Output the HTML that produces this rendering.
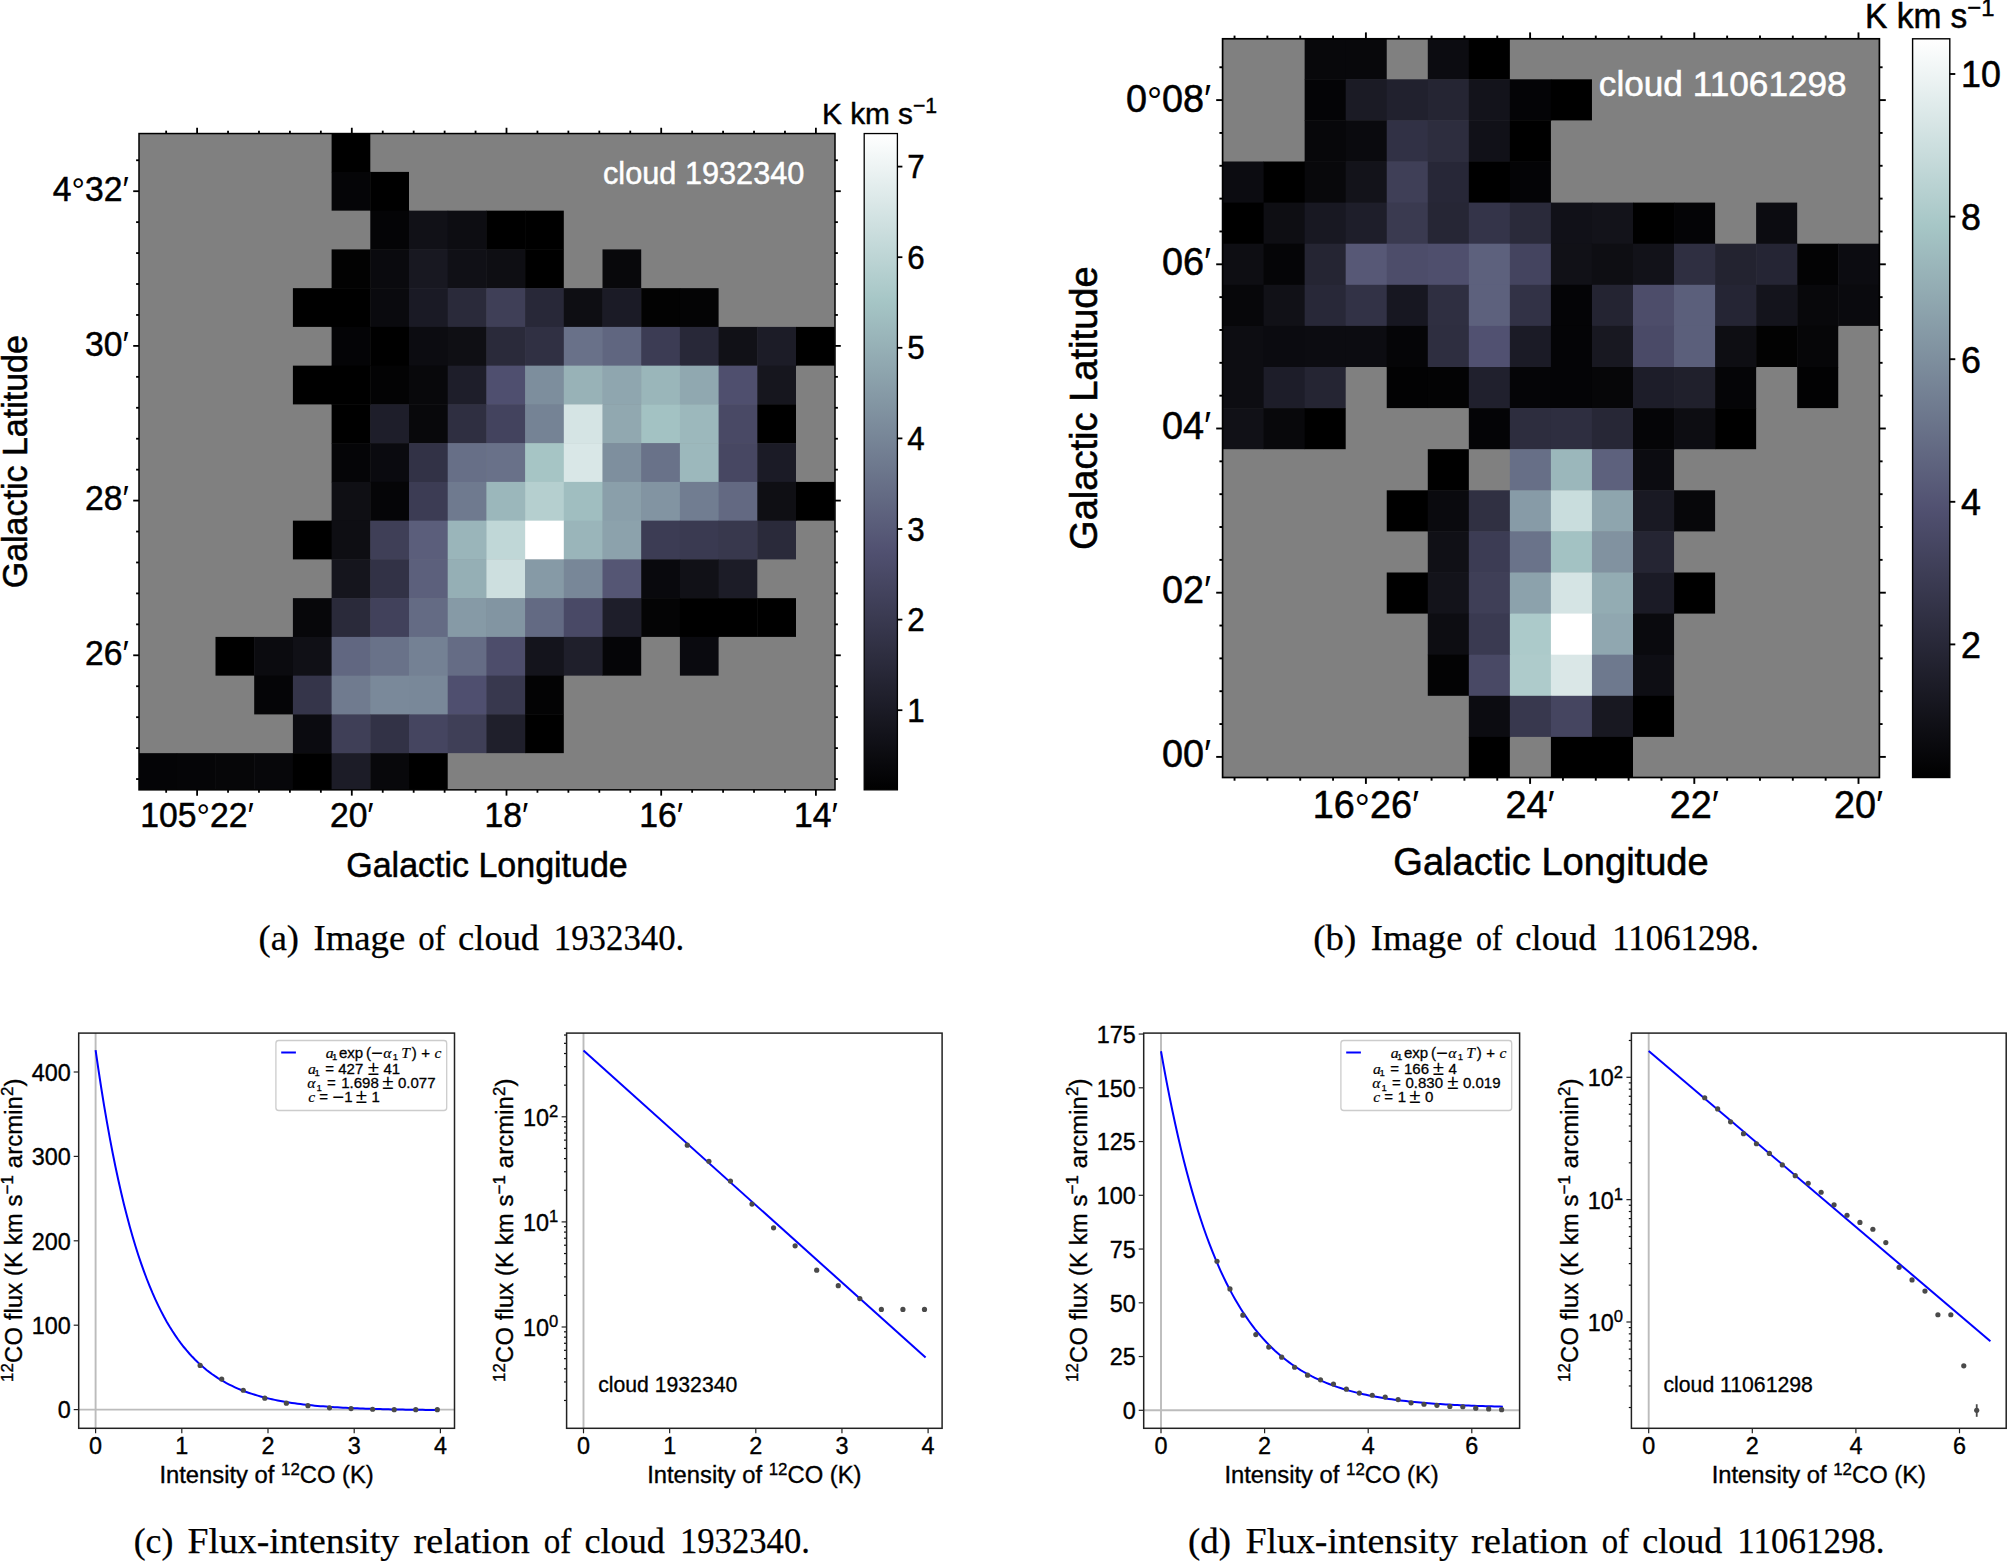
<!DOCTYPE html>
<html><head><meta charset="utf-8"><title>Flux-intensity relation</title>
<style>html,body{margin:0;padding:0;background:#fff}svg{display:block}text{white-space:pre}</style></head>
<body>
<svg width="2008" height="1561" viewBox="0 0 2008 1561">
<rect x="0" y="0" width="2008" height="1561" fill="#fff"/>
<clipPath id="cg1"><rect x="139" y="133.55" width="696" height="656.3"/></clipPath>
<rect x="139" y="133.55" width="696" height="656.3" fill="#808080"/>
<g clip-path="url(#cg1)">
<rect x="331.6" y="133.15" width="38.7" height="39.15" fill="#000000"/>
<rect x="331.6" y="171.9" width="39.1" height="38.75" fill="#050507"/>
<rect x="370.3" y="171.9" width="38.7" height="39.15" fill="#000000"/>
<rect x="370.3" y="210.65" width="39.1" height="39.15" fill="#040406"/>
<rect x="409" y="210.65" width="39.1" height="39.15" fill="#111117"/>
<rect x="447.7" y="210.65" width="39.1" height="39.15" fill="#0d0d12"/>
<rect x="486.4" y="210.65" width="39.1" height="39.15" fill="#000000"/>
<rect x="525.1" y="210.65" width="38.7" height="39.15" fill="#000000"/>
<rect x="331.6" y="249.4" width="39.1" height="39.15" fill="#020202"/>
<rect x="370.3" y="249.4" width="39.1" height="39.15" fill="#0a0a0e"/>
<rect x="409" y="249.4" width="39.1" height="39.15" fill="#181821"/>
<rect x="447.7" y="249.4" width="39.1" height="39.15" fill="#101016"/>
<rect x="486.4" y="249.4" width="39.1" height="39.15" fill="#0e0e13"/>
<rect x="525.1" y="249.4" width="38.7" height="39.15" fill="#000000"/>
<rect x="602.5" y="249.4" width="38.7" height="39.15" fill="#08080b"/>
<rect x="292.9" y="288.15" width="39.1" height="38.75" fill="#000000"/>
<rect x="331.6" y="288.15" width="39.1" height="39.15" fill="#000000"/>
<rect x="370.3" y="288.15" width="39.1" height="39.15" fill="#0a0a0e"/>
<rect x="409" y="288.15" width="39.1" height="39.15" fill="#1a1a25"/>
<rect x="447.7" y="288.15" width="39.1" height="39.15" fill="#2a2a3a"/>
<rect x="486.4" y="288.15" width="39.1" height="39.15" fill="#3f3f57"/>
<rect x="525.1" y="288.15" width="39.1" height="39.15" fill="#282838"/>
<rect x="563.8" y="288.15" width="39.1" height="39.15" fill="#0e0e13"/>
<rect x="602.5" y="288.15" width="39.1" height="39.15" fill="#1b1b26"/>
<rect x="641.2" y="288.15" width="39.1" height="39.15" fill="#020202"/>
<rect x="679.9" y="288.15" width="38.7" height="39.15" fill="#040405"/>
<rect x="331.6" y="326.9" width="39.1" height="39.15" fill="#040406"/>
<rect x="370.3" y="326.9" width="39.1" height="39.15" fill="#000000"/>
<rect x="409" y="326.9" width="39.1" height="39.15" fill="#0c0c11"/>
<rect x="447.7" y="326.9" width="39.1" height="39.15" fill="#0f0f14"/>
<rect x="486.4" y="326.9" width="39.1" height="39.15" fill="#2a2a3a"/>
<rect x="525.1" y="326.9" width="39.1" height="39.15" fill="#303043"/>
<rect x="563.8" y="326.9" width="39.1" height="39.15" fill="#697189"/>
<rect x="602.5" y="326.9" width="39.1" height="39.15" fill="#606680"/>
<rect x="641.2" y="326.9" width="39.1" height="39.15" fill="#3c3c54"/>
<rect x="679.9" y="326.9" width="39.1" height="39.15" fill="#282838"/>
<rect x="718.6" y="326.9" width="39.1" height="39.15" fill="#111117"/>
<rect x="757.3" y="326.9" width="39.1" height="39.15" fill="#1c1c27"/>
<rect x="796" y="326.9" width="38.7" height="38.75" fill="#000000"/>
<rect x="292.9" y="365.65" width="39.1" height="38.75" fill="#000000"/>
<rect x="331.6" y="365.65" width="39.1" height="39.15" fill="#000000"/>
<rect x="370.3" y="365.65" width="39.1" height="39.15" fill="#030304"/>
<rect x="409" y="365.65" width="39.1" height="39.15" fill="#08080b"/>
<rect x="447.7" y="365.65" width="39.1" height="39.15" fill="#1e1e2a"/>
<rect x="486.4" y="365.65" width="39.1" height="39.15" fill="#4f4f6f"/>
<rect x="525.1" y="365.65" width="39.1" height="39.15" fill="#7d8e9d"/>
<rect x="563.8" y="365.65" width="39.1" height="39.15" fill="#98b2b7"/>
<rect x="602.5" y="365.65" width="39.1" height="39.15" fill="#8fa6af"/>
<rect x="641.2" y="365.65" width="39.1" height="39.15" fill="#9ab6ba"/>
<rect x="679.9" y="365.65" width="39.1" height="39.15" fill="#90a8b0"/>
<rect x="718.6" y="365.65" width="39.1" height="39.15" fill="#4f4f6e"/>
<rect x="757.3" y="365.65" width="38.7" height="39.15" fill="#16161e"/>
<rect x="331.6" y="404.4" width="39.1" height="39.15" fill="#000000"/>
<rect x="370.3" y="404.4" width="39.1" height="39.15" fill="#1e1e2a"/>
<rect x="409" y="404.4" width="39.1" height="39.15" fill="#08080b"/>
<rect x="447.7" y="404.4" width="39.1" height="39.15" fill="#2f2f41"/>
<rect x="486.4" y="404.4" width="39.1" height="39.15" fill="#43435e"/>
<rect x="525.1" y="404.4" width="39.1" height="39.15" fill="#758395"/>
<rect x="563.8" y="404.4" width="39.1" height="39.15" fill="#d5e4e4"/>
<rect x="602.5" y="404.4" width="39.1" height="39.15" fill="#91a8b0"/>
<rect x="641.2" y="404.4" width="39.1" height="39.15" fill="#a3c2c3"/>
<rect x="679.9" y="404.4" width="39.1" height="39.15" fill="#9cb8bc"/>
<rect x="718.6" y="404.4" width="39.1" height="39.15" fill="#494965"/>
<rect x="757.3" y="404.4" width="38.7" height="39.15" fill="#000000"/>
<rect x="331.6" y="443.15" width="39.1" height="39.15" fill="#050507"/>
<rect x="370.3" y="443.15" width="39.1" height="39.15" fill="#0a0a0f"/>
<rect x="409" y="443.15" width="39.1" height="39.15" fill="#323246"/>
<rect x="447.7" y="443.15" width="39.1" height="39.15" fill="#676f87"/>
<rect x="486.4" y="443.15" width="39.1" height="39.15" fill="#697189"/>
<rect x="525.1" y="443.15" width="39.1" height="39.15" fill="#a6c5c5"/>
<rect x="563.8" y="443.15" width="39.1" height="39.15" fill="#d9e7e7"/>
<rect x="602.5" y="443.15" width="39.1" height="39.15" fill="#7e8f9e"/>
<rect x="641.2" y="443.15" width="39.1" height="39.15" fill="#697289"/>
<rect x="679.9" y="443.15" width="39.1" height="39.15" fill="#9cb8bc"/>
<rect x="718.6" y="443.15" width="39.1" height="39.15" fill="#474762"/>
<rect x="757.3" y="443.15" width="38.7" height="39.15" fill="#1b1b26"/>
<rect x="331.6" y="481.9" width="39.1" height="39.15" fill="#0f0f14"/>
<rect x="370.3" y="481.9" width="39.1" height="39.15" fill="#050507"/>
<rect x="409" y="481.9" width="39.1" height="39.15" fill="#3c3c54"/>
<rect x="447.7" y="481.9" width="39.1" height="39.15" fill="#6f7a8f"/>
<rect x="486.4" y="481.9" width="39.1" height="39.15" fill="#9bb7bb"/>
<rect x="525.1" y="481.9" width="39.1" height="39.15" fill="#b5cfcf"/>
<rect x="563.8" y="481.9" width="39.1" height="39.15" fill="#a0bec0"/>
<rect x="602.5" y="481.9" width="39.1" height="39.15" fill="#8a9faa"/>
<rect x="641.2" y="481.9" width="39.1" height="39.15" fill="#8294a2"/>
<rect x="679.9" y="481.9" width="39.1" height="39.15" fill="#717d91"/>
<rect x="718.6" y="481.9" width="39.1" height="39.15" fill="#636982"/>
<rect x="757.3" y="481.9" width="39.1" height="39.15" fill="#0f0f14"/>
<rect x="796" y="481.9" width="38.7" height="38.75" fill="#000000"/>
<rect x="292.9" y="520.65" width="39.1" height="38.75" fill="#000000"/>
<rect x="331.6" y="520.65" width="39.1" height="39.15" fill="#0e0e13"/>
<rect x="370.3" y="520.65" width="39.1" height="39.15" fill="#3f3f57"/>
<rect x="409" y="520.65" width="39.1" height="39.15" fill="#5b5e7b"/>
<rect x="447.7" y="520.65" width="39.1" height="39.15" fill="#9ab5ba"/>
<rect x="486.4" y="520.65" width="39.1" height="39.15" fill="#c0d7d7"/>
<rect x="525.1" y="520.65" width="39.1" height="39.15" fill="#ffffff"/>
<rect x="563.8" y="520.65" width="39.1" height="39.15" fill="#9ab5ba"/>
<rect x="602.5" y="520.65" width="39.1" height="39.15" fill="#8ca2ac"/>
<rect x="641.2" y="520.65" width="39.1" height="39.15" fill="#3c3c54"/>
<rect x="679.9" y="520.65" width="39.1" height="39.15" fill="#3a3a51"/>
<rect x="718.6" y="520.65" width="39.1" height="39.15" fill="#38384d"/>
<rect x="757.3" y="520.65" width="38.7" height="38.75" fill="#2a2a3a"/>
<rect x="331.6" y="559.4" width="39.1" height="39.15" fill="#15151d"/>
<rect x="370.3" y="559.4" width="39.1" height="39.15" fill="#323246"/>
<rect x="409" y="559.4" width="39.1" height="39.15" fill="#5c607c"/>
<rect x="447.7" y="559.4" width="39.1" height="39.15" fill="#95afb5"/>
<rect x="486.4" y="559.4" width="39.1" height="39.15" fill="#cddfdf"/>
<rect x="525.1" y="559.4" width="39.1" height="39.15" fill="#869aa6"/>
<rect x="563.8" y="559.4" width="39.1" height="39.15" fill="#788798"/>
<rect x="602.5" y="559.4" width="39.1" height="39.15" fill="#555674"/>
<rect x="641.2" y="559.4" width="39.1" height="39.15" fill="#09090d"/>
<rect x="679.9" y="559.4" width="39.1" height="39.15" fill="#111117"/>
<rect x="718.6" y="559.4" width="38.7" height="39.15" fill="#1c1c27"/>
<rect x="292.9" y="598.15" width="39.1" height="39.15" fill="#07070a"/>
<rect x="331.6" y="598.15" width="39.1" height="39.15" fill="#2a2a3a"/>
<rect x="370.3" y="598.15" width="39.1" height="39.15" fill="#41415b"/>
<rect x="409" y="598.15" width="39.1" height="39.15" fill="#646b84"/>
<rect x="447.7" y="598.15" width="39.1" height="39.15" fill="#869aa6"/>
<rect x="486.4" y="598.15" width="39.1" height="39.15" fill="#8295a2"/>
<rect x="525.1" y="598.15" width="39.1" height="39.15" fill="#636a83"/>
<rect x="563.8" y="598.15" width="39.1" height="39.15" fill="#494966"/>
<rect x="602.5" y="598.15" width="39.1" height="39.15" fill="#1e1e2a"/>
<rect x="641.2" y="598.15" width="39.1" height="38.75" fill="#040405"/>
<rect x="679.9" y="598.15" width="39.1" height="39.15" fill="#000000"/>
<rect x="718.6" y="598.15" width="39.1" height="38.75" fill="#000000"/>
<rect x="757.3" y="598.15" width="38.7" height="38.75" fill="#000000"/>
<rect x="215.5" y="636.9" width="39.1" height="38.75" fill="#000000"/>
<rect x="254.2" y="636.9" width="39.1" height="39.15" fill="#0b0b0f"/>
<rect x="292.9" y="636.9" width="39.1" height="39.15" fill="#101016"/>
<rect x="331.6" y="636.9" width="39.1" height="39.15" fill="#616781"/>
<rect x="370.3" y="636.9" width="39.1" height="39.15" fill="#697289"/>
<rect x="409" y="636.9" width="39.1" height="39.15" fill="#748194"/>
<rect x="447.7" y="636.9" width="39.1" height="39.15" fill="#656c85"/>
<rect x="486.4" y="636.9" width="39.1" height="39.15" fill="#4d4d6b"/>
<rect x="525.1" y="636.9" width="39.1" height="39.15" fill="#14141c"/>
<rect x="563.8" y="636.9" width="39.1" height="38.75" fill="#1f1f2b"/>
<rect x="602.5" y="636.9" width="38.7" height="38.75" fill="#050507"/>
<rect x="679.9" y="636.9" width="38.7" height="38.75" fill="#0a0a0f"/>
<rect x="254.2" y="675.65" width="39.1" height="38.75" fill="#050507"/>
<rect x="292.9" y="675.65" width="39.1" height="39.15" fill="#35354a"/>
<rect x="331.6" y="675.65" width="39.1" height="39.15" fill="#707b8f"/>
<rect x="370.3" y="675.65" width="39.1" height="39.15" fill="#7a899a"/>
<rect x="409" y="675.65" width="39.1" height="39.15" fill="#798899"/>
<rect x="447.7" y="675.65" width="39.1" height="39.15" fill="#4f4f6f"/>
<rect x="486.4" y="675.65" width="39.1" height="39.15" fill="#38384e"/>
<rect x="525.1" y="675.65" width="38.7" height="39.15" fill="#030304"/>
<rect x="292.9" y="714.4" width="39.1" height="39.15" fill="#0b0b10"/>
<rect x="331.6" y="714.4" width="39.1" height="39.15" fill="#3f3f57"/>
<rect x="370.3" y="714.4" width="39.1" height="39.15" fill="#323246"/>
<rect x="409" y="714.4" width="39.1" height="39.15" fill="#454560"/>
<rect x="447.7" y="714.4" width="39.1" height="38.75" fill="#3f3f57"/>
<rect x="486.4" y="714.4" width="39.1" height="38.75" fill="#1f1f2b"/>
<rect x="525.1" y="714.4" width="38.7" height="38.75" fill="#000000"/>
<rect x="138.1" y="753.15" width="39.1" height="38.75" fill="#040406"/>
<rect x="176.8" y="753.15" width="39.1" height="38.75" fill="#050507"/>
<rect x="215.5" y="753.15" width="39.1" height="38.75" fill="#060608"/>
<rect x="254.2" y="753.15" width="39.1" height="38.75" fill="#07070a"/>
<rect x="292.9" y="753.15" width="39.1" height="38.75" fill="#000000"/>
<rect x="331.6" y="753.15" width="39.1" height="38.75" fill="#1c1c27"/>
<rect x="370.3" y="753.15" width="39.1" height="38.75" fill="#08080b"/>
<rect x="409" y="753.15" width="38.7" height="38.75" fill="#000000"/>
</g>
<line x1="166.16" y1="789.85" x2="166.16" y2="792.75" stroke="#000" stroke-width="1.8"/>
<line x1="166.16" y1="133.55" x2="166.16" y2="130.65" stroke="#000" stroke-width="1.8"/>
<line x1="197.1" y1="789.85" x2="197.1" y2="795.65" stroke="#000" stroke-width="1.8"/>
<line x1="197.1" y1="133.55" x2="197.1" y2="127.75" stroke="#000" stroke-width="1.8"/>
<line x1="228.04" y1="789.85" x2="228.04" y2="792.75" stroke="#000" stroke-width="1.8"/>
<line x1="228.04" y1="133.55" x2="228.04" y2="130.65" stroke="#000" stroke-width="1.8"/>
<line x1="258.98" y1="789.85" x2="258.98" y2="792.75" stroke="#000" stroke-width="1.8"/>
<line x1="258.98" y1="133.55" x2="258.98" y2="130.65" stroke="#000" stroke-width="1.8"/>
<line x1="289.92" y1="789.85" x2="289.92" y2="792.75" stroke="#000" stroke-width="1.8"/>
<line x1="289.92" y1="133.55" x2="289.92" y2="130.65" stroke="#000" stroke-width="1.8"/>
<line x1="320.86" y1="789.85" x2="320.86" y2="792.75" stroke="#000" stroke-width="1.8"/>
<line x1="320.86" y1="133.55" x2="320.86" y2="130.65" stroke="#000" stroke-width="1.8"/>
<line x1="351.8" y1="789.85" x2="351.8" y2="795.65" stroke="#000" stroke-width="1.8"/>
<line x1="351.8" y1="133.55" x2="351.8" y2="127.75" stroke="#000" stroke-width="1.8"/>
<line x1="382.74" y1="789.85" x2="382.74" y2="792.75" stroke="#000" stroke-width="1.8"/>
<line x1="382.74" y1="133.55" x2="382.74" y2="130.65" stroke="#000" stroke-width="1.8"/>
<line x1="413.68" y1="789.85" x2="413.68" y2="792.75" stroke="#000" stroke-width="1.8"/>
<line x1="413.68" y1="133.55" x2="413.68" y2="130.65" stroke="#000" stroke-width="1.8"/>
<line x1="444.62" y1="789.85" x2="444.62" y2="792.75" stroke="#000" stroke-width="1.8"/>
<line x1="444.62" y1="133.55" x2="444.62" y2="130.65" stroke="#000" stroke-width="1.8"/>
<line x1="475.56" y1="789.85" x2="475.56" y2="792.75" stroke="#000" stroke-width="1.8"/>
<line x1="475.56" y1="133.55" x2="475.56" y2="130.65" stroke="#000" stroke-width="1.8"/>
<line x1="506.5" y1="789.85" x2="506.5" y2="795.65" stroke="#000" stroke-width="1.8"/>
<line x1="506.5" y1="133.55" x2="506.5" y2="127.75" stroke="#000" stroke-width="1.8"/>
<line x1="537.44" y1="789.85" x2="537.44" y2="792.75" stroke="#000" stroke-width="1.8"/>
<line x1="537.44" y1="133.55" x2="537.44" y2="130.65" stroke="#000" stroke-width="1.8"/>
<line x1="568.38" y1="789.85" x2="568.38" y2="792.75" stroke="#000" stroke-width="1.8"/>
<line x1="568.38" y1="133.55" x2="568.38" y2="130.65" stroke="#000" stroke-width="1.8"/>
<line x1="599.32" y1="789.85" x2="599.32" y2="792.75" stroke="#000" stroke-width="1.8"/>
<line x1="599.32" y1="133.55" x2="599.32" y2="130.65" stroke="#000" stroke-width="1.8"/>
<line x1="630.26" y1="789.85" x2="630.26" y2="792.75" stroke="#000" stroke-width="1.8"/>
<line x1="630.26" y1="133.55" x2="630.26" y2="130.65" stroke="#000" stroke-width="1.8"/>
<line x1="661.2" y1="789.85" x2="661.2" y2="795.65" stroke="#000" stroke-width="1.8"/>
<line x1="661.2" y1="133.55" x2="661.2" y2="127.75" stroke="#000" stroke-width="1.8"/>
<line x1="692.14" y1="789.85" x2="692.14" y2="792.75" stroke="#000" stroke-width="1.8"/>
<line x1="692.14" y1="133.55" x2="692.14" y2="130.65" stroke="#000" stroke-width="1.8"/>
<line x1="723.08" y1="789.85" x2="723.08" y2="792.75" stroke="#000" stroke-width="1.8"/>
<line x1="723.08" y1="133.55" x2="723.08" y2="130.65" stroke="#000" stroke-width="1.8"/>
<line x1="754.02" y1="789.85" x2="754.02" y2="792.75" stroke="#000" stroke-width="1.8"/>
<line x1="754.02" y1="133.55" x2="754.02" y2="130.65" stroke="#000" stroke-width="1.8"/>
<line x1="784.96" y1="789.85" x2="784.96" y2="792.75" stroke="#000" stroke-width="1.8"/>
<line x1="784.96" y1="133.55" x2="784.96" y2="130.65" stroke="#000" stroke-width="1.8"/>
<line x1="815.9" y1="789.85" x2="815.9" y2="795.65" stroke="#000" stroke-width="1.8"/>
<line x1="815.9" y1="133.55" x2="815.9" y2="127.75" stroke="#000" stroke-width="1.8"/>
<line x1="139" y1="160.26" x2="136.1" y2="160.26" stroke="#000" stroke-width="1.8"/>
<line x1="835" y1="160.26" x2="837.9" y2="160.26" stroke="#000" stroke-width="1.8"/>
<line x1="139" y1="191.2" x2="133.2" y2="191.2" stroke="#000" stroke-width="1.8"/>
<line x1="835" y1="191.2" x2="840.8" y2="191.2" stroke="#000" stroke-width="1.8"/>
<line x1="139" y1="222.14" x2="136.1" y2="222.14" stroke="#000" stroke-width="1.8"/>
<line x1="835" y1="222.14" x2="837.9" y2="222.14" stroke="#000" stroke-width="1.8"/>
<line x1="139" y1="253.08" x2="136.1" y2="253.08" stroke="#000" stroke-width="1.8"/>
<line x1="835" y1="253.08" x2="837.9" y2="253.08" stroke="#000" stroke-width="1.8"/>
<line x1="139" y1="284.02" x2="136.1" y2="284.02" stroke="#000" stroke-width="1.8"/>
<line x1="835" y1="284.02" x2="837.9" y2="284.02" stroke="#000" stroke-width="1.8"/>
<line x1="139" y1="314.96" x2="136.1" y2="314.96" stroke="#000" stroke-width="1.8"/>
<line x1="835" y1="314.96" x2="837.9" y2="314.96" stroke="#000" stroke-width="1.8"/>
<line x1="139" y1="345.9" x2="133.2" y2="345.9" stroke="#000" stroke-width="1.8"/>
<line x1="835" y1="345.9" x2="840.8" y2="345.9" stroke="#000" stroke-width="1.8"/>
<line x1="139" y1="376.84" x2="136.1" y2="376.84" stroke="#000" stroke-width="1.8"/>
<line x1="835" y1="376.84" x2="837.9" y2="376.84" stroke="#000" stroke-width="1.8"/>
<line x1="139" y1="407.78" x2="136.1" y2="407.78" stroke="#000" stroke-width="1.8"/>
<line x1="835" y1="407.78" x2="837.9" y2="407.78" stroke="#000" stroke-width="1.8"/>
<line x1="139" y1="438.72" x2="136.1" y2="438.72" stroke="#000" stroke-width="1.8"/>
<line x1="835" y1="438.72" x2="837.9" y2="438.72" stroke="#000" stroke-width="1.8"/>
<line x1="139" y1="469.66" x2="136.1" y2="469.66" stroke="#000" stroke-width="1.8"/>
<line x1="835" y1="469.66" x2="837.9" y2="469.66" stroke="#000" stroke-width="1.8"/>
<line x1="139" y1="500.6" x2="133.2" y2="500.6" stroke="#000" stroke-width="1.8"/>
<line x1="835" y1="500.6" x2="840.8" y2="500.6" stroke="#000" stroke-width="1.8"/>
<line x1="139" y1="531.54" x2="136.1" y2="531.54" stroke="#000" stroke-width="1.8"/>
<line x1="835" y1="531.54" x2="837.9" y2="531.54" stroke="#000" stroke-width="1.8"/>
<line x1="139" y1="562.48" x2="136.1" y2="562.48" stroke="#000" stroke-width="1.8"/>
<line x1="835" y1="562.48" x2="837.9" y2="562.48" stroke="#000" stroke-width="1.8"/>
<line x1="139" y1="593.42" x2="136.1" y2="593.42" stroke="#000" stroke-width="1.8"/>
<line x1="835" y1="593.42" x2="837.9" y2="593.42" stroke="#000" stroke-width="1.8"/>
<line x1="139" y1="624.36" x2="136.1" y2="624.36" stroke="#000" stroke-width="1.8"/>
<line x1="835" y1="624.36" x2="837.9" y2="624.36" stroke="#000" stroke-width="1.8"/>
<line x1="139" y1="655.3" x2="133.2" y2="655.3" stroke="#000" stroke-width="1.8"/>
<line x1="835" y1="655.3" x2="840.8" y2="655.3" stroke="#000" stroke-width="1.8"/>
<line x1="139" y1="686.24" x2="136.1" y2="686.24" stroke="#000" stroke-width="1.8"/>
<line x1="835" y1="686.24" x2="837.9" y2="686.24" stroke="#000" stroke-width="1.8"/>
<line x1="139" y1="717.18" x2="136.1" y2="717.18" stroke="#000" stroke-width="1.8"/>
<line x1="835" y1="717.18" x2="837.9" y2="717.18" stroke="#000" stroke-width="1.8"/>
<line x1="139" y1="748.12" x2="136.1" y2="748.12" stroke="#000" stroke-width="1.8"/>
<line x1="835" y1="748.12" x2="837.9" y2="748.12" stroke="#000" stroke-width="1.8"/>
<line x1="139" y1="779.06" x2="136.1" y2="779.06" stroke="#000" stroke-width="1.8"/>
<line x1="835" y1="779.06" x2="837.9" y2="779.06" stroke="#000" stroke-width="1.8"/>
<rect x="139" y="133.55" width="696" height="656.3" fill="none" stroke="#000" stroke-width="1.5"/>
<text transform="translate(815.9 827) scale(1 1.045)" font-family="'Liberation Sans', sans-serif" font-size="33.7" text-anchor="middle" fill="#000" stroke="#000" stroke-width="0.5">14<tspan stroke="none">′</tspan></text>
<text transform="translate(661.2 827) scale(1 1.045)" font-family="'Liberation Sans', sans-serif" font-size="33.7" text-anchor="middle" fill="#000" stroke="#000" stroke-width="0.5">16<tspan stroke="none">′</tspan></text>
<text transform="translate(506.5 827) scale(1 1.045)" font-family="'Liberation Sans', sans-serif" font-size="33.7" text-anchor="middle" fill="#000" stroke="#000" stroke-width="0.5">18<tspan stroke="none">′</tspan></text>
<text transform="translate(351.8 827) scale(1 1.045)" font-family="'Liberation Sans', sans-serif" font-size="33.7" text-anchor="middle" fill="#000" stroke="#000" stroke-width="0.5">20<tspan stroke="none">′</tspan></text>
<text transform="translate(197.1 827) scale(1 1.045)" font-family="'Liberation Sans', sans-serif" font-size="33.7" text-anchor="middle" fill="#000" stroke="#000" stroke-width="0.5">105<tspan stroke="none" dy="1.85">°</tspan><tspan dy="-1.85">&#8203;</tspan>22<tspan stroke="none">′</tspan></text>
<text transform="translate(128.8 201.4) scale(1 1.045)" font-family="'Liberation Sans', sans-serif" font-size="33.7" text-anchor="end" fill="#000" stroke="#000" stroke-width="0.5">4<tspan stroke="none" dy="1.85">°</tspan><tspan dy="-1.85">&#8203;</tspan>32<tspan stroke="none">′</tspan></text>
<text transform="translate(128.8 355.5) scale(1 1.045)" font-family="'Liberation Sans', sans-serif" font-size="33.7" text-anchor="end" fill="#000" stroke="#000" stroke-width="0.5">30<tspan stroke="none">′</tspan></text>
<text transform="translate(128.8 510.2) scale(1 1.045)" font-family="'Liberation Sans', sans-serif" font-size="33.7" text-anchor="end" fill="#000" stroke="#000" stroke-width="0.5">28<tspan stroke="none">′</tspan></text>
<text transform="translate(128.8 664.9) scale(1 1.045)" font-family="'Liberation Sans', sans-serif" font-size="33.7" text-anchor="end" fill="#000" stroke="#000" stroke-width="0.5">26<tspan stroke="none">′</tspan></text>
<text transform="translate(487 876.7) scale(1 1.02)" font-family="'Liberation Sans', sans-serif" font-size="34" text-anchor="middle" fill="#000" stroke="#000" stroke-width="0.5">Galactic Longitude</text>
<text transform="translate(27.3 461.7) rotate(-90) scale(1 1.02)" font-family="'Liberation Sans', sans-serif" font-size="34" text-anchor="middle" fill="#000" stroke="#000" stroke-width="0.5">Galactic Latitude</text>
<text transform="translate(603 184) scale(1 1.02)" font-family="'Liberation Sans', sans-serif" font-size="30.7" text-anchor="start" fill="#fff" stroke="#fff" stroke-width="0.46">cloud 1932340</text>
<linearGradient id="g1" x1="0" y1="1" x2="0" y2="0"><stop offset="0" stop-color="#000000"/><stop offset="0.365079" stop-color="#515171"/><stop offset="0.746032" stop-color="#a6c6c6"/><stop offset="1" stop-color="#ffffff"/></linearGradient>
<rect x="864.2" y="133.55" width="33.2" height="656.3" fill="url(#g1)" stroke="#000" stroke-width="1.3"/>
<line x1="897.4" y1="710.2" x2="902.4" y2="710.2" stroke="#000" stroke-width="1.8"/>
<text transform="translate(907.2 721.8) scale(1 1.045)" font-family="'Liberation Sans', sans-serif" font-size="31.3" text-anchor="start" fill="#000" stroke="#000" stroke-width="0.46">1</text>
<line x1="897.4" y1="619.6" x2="902.4" y2="619.6" stroke="#000" stroke-width="1.8"/>
<text transform="translate(907.2 631.2) scale(1 1.045)" font-family="'Liberation Sans', sans-serif" font-size="31.3" text-anchor="start" fill="#000" stroke="#000" stroke-width="0.46">2</text>
<line x1="897.4" y1="529" x2="902.4" y2="529" stroke="#000" stroke-width="1.8"/>
<text transform="translate(907.2 540.6) scale(1 1.045)" font-family="'Liberation Sans', sans-serif" font-size="31.3" text-anchor="start" fill="#000" stroke="#000" stroke-width="0.46">3</text>
<line x1="897.4" y1="438.4" x2="902.4" y2="438.4" stroke="#000" stroke-width="1.8"/>
<text transform="translate(907.2 450) scale(1 1.045)" font-family="'Liberation Sans', sans-serif" font-size="31.3" text-anchor="start" fill="#000" stroke="#000" stroke-width="0.46">4</text>
<line x1="897.4" y1="347.8" x2="902.4" y2="347.8" stroke="#000" stroke-width="1.8"/>
<text transform="translate(907.2 359.4) scale(1 1.045)" font-family="'Liberation Sans', sans-serif" font-size="31.3" text-anchor="start" fill="#000" stroke="#000" stroke-width="0.46">5</text>
<line x1="897.4" y1="257.2" x2="902.4" y2="257.2" stroke="#000" stroke-width="1.8"/>
<text transform="translate(907.2 268.8) scale(1 1.045)" font-family="'Liberation Sans', sans-serif" font-size="31.3" text-anchor="start" fill="#000" stroke="#000" stroke-width="0.46">6</text>
<line x1="897.4" y1="166.6" x2="902.4" y2="166.6" stroke="#000" stroke-width="1.8"/>
<text transform="translate(907.2 178.2) scale(1 1.045)" font-family="'Liberation Sans', sans-serif" font-size="31.3" text-anchor="start" fill="#000" stroke="#000" stroke-width="0.46">7</text>
<text transform="translate(822 124.1) scale(1 1.02)" font-family="'Liberation Sans', sans-serif" font-size="29.8" text-anchor="start" fill="#000" stroke="#000" stroke-width="0.44">K km s<tspan font-size="21.16" dy="-10.73">−1</tspan></text>
<clipPath id="cg2"><rect x="1222.6" y="38.8" width="656.8" height="738.7"/></clipPath>
<rect x="1222.6" y="38.8" width="656.8" height="738.7" fill="#808080"/>
<g clip-path="url(#cg2)">
<rect x="1304.64" y="38.2" width="41.45" height="41.5" fill="#08080b"/>
<rect x="1345.68" y="38.2" width="41.05" height="41.5" fill="#08080b"/>
<rect x="1427.78" y="38.2" width="41.45" height="41.5" fill="#0c0c11"/>
<rect x="1468.82" y="38.2" width="41.05" height="41.5" fill="#000000"/>
<rect x="1304.64" y="79.3" width="41.45" height="41.5" fill="#040406"/>
<rect x="1345.68" y="79.3" width="41.45" height="41.5" fill="#1b1b25"/>
<rect x="1386.73" y="79.3" width="41.45" height="41.5" fill="#21212e"/>
<rect x="1427.78" y="79.3" width="41.45" height="41.5" fill="#252533"/>
<rect x="1468.82" y="79.3" width="41.45" height="41.5" fill="#13131b"/>
<rect x="1509.87" y="79.3" width="41.45" height="41.5" fill="#040406"/>
<rect x="1550.91" y="79.3" width="41.05" height="41.1" fill="#000000"/>
<rect x="1304.64" y="120.4" width="41.45" height="41.5" fill="#07070a"/>
<rect x="1345.68" y="120.4" width="41.45" height="41.5" fill="#0a0a0e"/>
<rect x="1386.73" y="120.4" width="41.45" height="41.5" fill="#313145"/>
<rect x="1427.78" y="120.4" width="41.45" height="41.5" fill="#2d2d3e"/>
<rect x="1468.82" y="120.4" width="41.45" height="41.5" fill="#111118"/>
<rect x="1509.87" y="120.4" width="41.05" height="41.5" fill="#000000"/>
<rect x="1222.55" y="161.5" width="41.45" height="41.5" fill="#0c0c11"/>
<rect x="1263.6" y="161.5" width="41.45" height="41.5" fill="#000000"/>
<rect x="1304.64" y="161.5" width="41.45" height="41.5" fill="#08080b"/>
<rect x="1345.68" y="161.5" width="41.45" height="41.5" fill="#13131a"/>
<rect x="1386.73" y="161.5" width="41.45" height="41.5" fill="#3f3f57"/>
<rect x="1427.78" y="161.5" width="41.45" height="41.5" fill="#272737"/>
<rect x="1468.82" y="161.5" width="41.45" height="41.5" fill="#000000"/>
<rect x="1509.87" y="161.5" width="41.05" height="41.5" fill="#040406"/>
<rect x="1222.55" y="202.6" width="41.45" height="41.5" fill="#000000"/>
<rect x="1263.6" y="202.6" width="41.45" height="41.5" fill="#0e0e13"/>
<rect x="1304.64" y="202.6" width="41.45" height="41.5" fill="#181822"/>
<rect x="1345.68" y="202.6" width="41.45" height="41.5" fill="#1e1e2a"/>
<rect x="1386.73" y="202.6" width="41.45" height="41.5" fill="#3a3a50"/>
<rect x="1427.78" y="202.6" width="41.45" height="41.5" fill="#262635"/>
<rect x="1468.82" y="202.6" width="41.45" height="41.5" fill="#343449"/>
<rect x="1509.87" y="202.6" width="41.45" height="41.5" fill="#2a2a3a"/>
<rect x="1550.91" y="202.6" width="41.45" height="41.5" fill="#111118"/>
<rect x="1591.95" y="202.6" width="41.45" height="41.5" fill="#13131a"/>
<rect x="1633" y="202.6" width="41.45" height="41.5" fill="#000000"/>
<rect x="1674.05" y="202.6" width="41.05" height="41.5" fill="#040406"/>
<rect x="1756.13" y="202.6" width="41.05" height="41.5" fill="#0c0c11"/>
<rect x="1222.55" y="243.7" width="41.45" height="41.5" fill="#0e0e13"/>
<rect x="1263.6" y="243.7" width="41.45" height="41.5" fill="#050507"/>
<rect x="1304.64" y="243.7" width="41.45" height="41.5" fill="#252533"/>
<rect x="1345.68" y="243.7" width="41.45" height="41.5" fill="#575876"/>
<rect x="1386.73" y="243.7" width="41.45" height="41.5" fill="#4d4d6a"/>
<rect x="1427.78" y="243.7" width="41.45" height="41.5" fill="#4f4f6d"/>
<rect x="1468.82" y="243.7" width="41.45" height="41.5" fill="#5d617d"/>
<rect x="1509.87" y="243.7" width="41.45" height="41.5" fill="#44445f"/>
<rect x="1550.91" y="243.7" width="41.45" height="41.5" fill="#111117"/>
<rect x="1591.95" y="243.7" width="41.45" height="41.5" fill="#0e0e13"/>
<rect x="1633" y="243.7" width="41.45" height="41.5" fill="#121219"/>
<rect x="1674.05" y="243.7" width="41.45" height="41.5" fill="#2f2f41"/>
<rect x="1715.09" y="243.7" width="41.45" height="41.5" fill="#232330"/>
<rect x="1756.13" y="243.7" width="41.45" height="41.5" fill="#252534"/>
<rect x="1797.18" y="243.7" width="41.45" height="41.5" fill="#030304"/>
<rect x="1838.22" y="243.7" width="41.05" height="41.5" fill="#0c0c11"/>
<rect x="1222.55" y="284.8" width="41.45" height="41.5" fill="#07070a"/>
<rect x="1263.6" y="284.8" width="41.45" height="41.5" fill="#111117"/>
<rect x="1304.64" y="284.8" width="41.45" height="41.5" fill="#282838"/>
<rect x="1345.68" y="284.8" width="41.45" height="41.5" fill="#323246"/>
<rect x="1386.73" y="284.8" width="41.45" height="41.5" fill="#171721"/>
<rect x="1427.78" y="284.8" width="41.45" height="41.5" fill="#2f2f41"/>
<rect x="1468.82" y="284.8" width="41.45" height="41.5" fill="#5d617d"/>
<rect x="1509.87" y="284.8" width="41.45" height="41.5" fill="#323246"/>
<rect x="1550.91" y="284.8" width="41.45" height="41.5" fill="#040406"/>
<rect x="1591.95" y="284.8" width="41.45" height="41.5" fill="#242432"/>
<rect x="1633" y="284.8" width="41.45" height="41.5" fill="#4d4d6a"/>
<rect x="1674.05" y="284.8" width="41.45" height="41.5" fill="#5b5f7b"/>
<rect x="1715.09" y="284.8" width="41.45" height="41.5" fill="#252534"/>
<rect x="1756.13" y="284.8" width="41.45" height="41.5" fill="#14141c"/>
<rect x="1797.18" y="284.8" width="41.45" height="41.5" fill="#08080b"/>
<rect x="1838.22" y="284.8" width="41.05" height="41.1" fill="#0a0a0e"/>
<rect x="1222.55" y="325.9" width="41.45" height="41.5" fill="#0d0d12"/>
<rect x="1263.6" y="325.9" width="41.45" height="41.5" fill="#0b0b10"/>
<rect x="1304.64" y="325.9" width="41.45" height="41.5" fill="#0c0c11"/>
<rect x="1345.68" y="325.9" width="41.45" height="41.1" fill="#0c0c11"/>
<rect x="1386.73" y="325.9" width="41.45" height="41.5" fill="#050507"/>
<rect x="1427.78" y="325.9" width="41.45" height="41.5" fill="#2e2e40"/>
<rect x="1468.82" y="325.9" width="41.45" height="41.5" fill="#515171"/>
<rect x="1509.87" y="325.9" width="41.45" height="41.5" fill="#1b1b26"/>
<rect x="1550.91" y="325.9" width="41.45" height="41.5" fill="#040406"/>
<rect x="1591.95" y="325.9" width="41.45" height="41.5" fill="#181821"/>
<rect x="1633" y="325.9" width="41.45" height="41.5" fill="#4a4a67"/>
<rect x="1674.05" y="325.9" width="41.45" height="41.5" fill="#5b5f7b"/>
<rect x="1715.09" y="325.9" width="41.45" height="41.5" fill="#0e0e13"/>
<rect x="1756.13" y="325.9" width="41.45" height="41.1" fill="#020202"/>
<rect x="1797.18" y="325.9" width="41.05" height="41.5" fill="#060608"/>
<rect x="1222.55" y="367" width="41.45" height="41.5" fill="#0d0d12"/>
<rect x="1263.6" y="367" width="41.45" height="41.5" fill="#1d1d29"/>
<rect x="1304.64" y="367" width="41.05" height="41.5" fill="#252533"/>
<rect x="1386.73" y="367" width="41.45" height="41.1" fill="#020203"/>
<rect x="1427.78" y="367" width="41.45" height="41.1" fill="#030304"/>
<rect x="1468.82" y="367" width="41.45" height="41.5" fill="#20202d"/>
<rect x="1509.87" y="367" width="41.45" height="41.5" fill="#050507"/>
<rect x="1550.91" y="367" width="41.45" height="41.5" fill="#040406"/>
<rect x="1591.95" y="367" width="41.45" height="41.5" fill="#060608"/>
<rect x="1633" y="367" width="41.45" height="41.5" fill="#1d1d29"/>
<rect x="1674.05" y="367" width="41.45" height="41.5" fill="#20202c"/>
<rect x="1715.09" y="367" width="41.05" height="41.5" fill="#050507"/>
<rect x="1797.18" y="367" width="41.05" height="41.1" fill="#020203"/>
<rect x="1222.55" y="408.1" width="41.45" height="41.1" fill="#111117"/>
<rect x="1263.6" y="408.1" width="41.45" height="41.1" fill="#08080b"/>
<rect x="1304.64" y="408.1" width="41.05" height="41.1" fill="#000000"/>
<rect x="1468.82" y="408.1" width="41.45" height="41.1" fill="#040406"/>
<rect x="1509.87" y="408.1" width="41.45" height="41.5" fill="#2d2d3e"/>
<rect x="1550.91" y="408.1" width="41.45" height="41.5" fill="#2e2e40"/>
<rect x="1591.95" y="408.1" width="41.45" height="41.5" fill="#272736"/>
<rect x="1633" y="408.1" width="41.45" height="41.5" fill="#050507"/>
<rect x="1674.05" y="408.1" width="41.45" height="41.1" fill="#0d0d12"/>
<rect x="1715.09" y="408.1" width="41.05" height="41.1" fill="#000000"/>
<rect x="1427.78" y="449.2" width="41.05" height="41.5" fill="#000000"/>
<rect x="1509.87" y="449.2" width="41.45" height="41.5" fill="#676f87"/>
<rect x="1550.91" y="449.2" width="41.45" height="41.5" fill="#9bb7bb"/>
<rect x="1591.95" y="449.2" width="41.45" height="41.5" fill="#5d617d"/>
<rect x="1633" y="449.2" width="41.05" height="41.5" fill="#0c0c11"/>
<rect x="1386.73" y="490.3" width="41.45" height="41.1" fill="#000000"/>
<rect x="1427.78" y="490.3" width="41.45" height="41.5" fill="#0a0a0e"/>
<rect x="1468.82" y="490.3" width="41.45" height="41.5" fill="#303042"/>
<rect x="1509.87" y="490.3" width="41.45" height="41.5" fill="#879ba7"/>
<rect x="1550.91" y="490.3" width="41.45" height="41.5" fill="#c9dddd"/>
<rect x="1591.95" y="490.3" width="41.45" height="41.5" fill="#8ea5ae"/>
<rect x="1633" y="490.3" width="41.45" height="41.5" fill="#191923"/>
<rect x="1674.05" y="490.3" width="41.05" height="41.1" fill="#07070a"/>
<rect x="1427.78" y="531.4" width="41.45" height="41.5" fill="#101016"/>
<rect x="1468.82" y="531.4" width="41.45" height="41.5" fill="#3c3c54"/>
<rect x="1509.87" y="531.4" width="41.45" height="41.5" fill="#6a738a"/>
<rect x="1550.91" y="531.4" width="41.45" height="41.5" fill="#a3c2c3"/>
<rect x="1591.95" y="531.4" width="41.45" height="41.5" fill="#8192a0"/>
<rect x="1633" y="531.4" width="41.05" height="41.5" fill="#252533"/>
<rect x="1386.73" y="572.5" width="41.45" height="41.1" fill="#000000"/>
<rect x="1427.78" y="572.5" width="41.45" height="41.5" fill="#13131a"/>
<rect x="1468.82" y="572.5" width="41.45" height="41.5" fill="#3f3f57"/>
<rect x="1509.87" y="572.5" width="41.45" height="41.5" fill="#8ca2ac"/>
<rect x="1550.91" y="572.5" width="41.45" height="41.5" fill="#d5e4e4"/>
<rect x="1591.95" y="572.5" width="41.45" height="41.5" fill="#93acb3"/>
<rect x="1633" y="572.5" width="41.45" height="41.5" fill="#1b1b26"/>
<rect x="1674.05" y="572.5" width="41.05" height="41.1" fill="#000000"/>
<rect x="1427.78" y="613.6" width="41.45" height="41.5" fill="#0d0d12"/>
<rect x="1468.82" y="613.6" width="41.45" height="41.5" fill="#3a3a51"/>
<rect x="1509.87" y="613.6" width="41.45" height="41.5" fill="#accaca"/>
<rect x="1550.91" y="613.6" width="41.45" height="41.5" fill="#ffffff"/>
<rect x="1591.95" y="613.6" width="41.45" height="41.5" fill="#90a7b0"/>
<rect x="1633" y="613.6" width="41.05" height="41.5" fill="#0a0a0e"/>
<rect x="1427.78" y="654.7" width="41.45" height="41.1" fill="#030304"/>
<rect x="1468.82" y="654.7" width="41.45" height="41.5" fill="#494965"/>
<rect x="1509.87" y="654.7" width="41.45" height="41.5" fill="#aecbcb"/>
<rect x="1550.91" y="654.7" width="41.45" height="41.5" fill="#dae7e7"/>
<rect x="1591.95" y="654.7" width="41.45" height="41.5" fill="#6e798e"/>
<rect x="1633" y="654.7" width="41.05" height="41.5" fill="#0e0e14"/>
<rect x="1468.82" y="695.8" width="41.45" height="41.5" fill="#0c0c11"/>
<rect x="1509.87" y="695.8" width="41.45" height="41.1" fill="#38384e"/>
<rect x="1550.91" y="695.8" width="41.45" height="41.5" fill="#454560"/>
<rect x="1591.95" y="695.8" width="41.45" height="41.5" fill="#181821"/>
<rect x="1633" y="695.8" width="41.05" height="41.1" fill="#000000"/>
<rect x="1468.82" y="736.9" width="41.05" height="41.1" fill="#000000"/>
<rect x="1550.91" y="736.9" width="41.45" height="41.1" fill="#000000"/>
<rect x="1591.95" y="736.9" width="41.05" height="41.1" fill="#000000"/>
</g>
<line x1="1234.54" y1="777.5" x2="1234.54" y2="780.7" stroke="#000" stroke-width="1.9"/>
<line x1="1234.54" y1="38.8" x2="1234.54" y2="35.6" stroke="#000" stroke-width="1.9"/>
<line x1="1267.38" y1="777.5" x2="1267.38" y2="780.7" stroke="#000" stroke-width="1.9"/>
<line x1="1267.38" y1="38.8" x2="1267.38" y2="35.6" stroke="#000" stroke-width="1.9"/>
<line x1="1300.22" y1="777.5" x2="1300.22" y2="780.7" stroke="#000" stroke-width="1.9"/>
<line x1="1300.22" y1="38.8" x2="1300.22" y2="35.6" stroke="#000" stroke-width="1.9"/>
<line x1="1333.06" y1="777.5" x2="1333.06" y2="780.7" stroke="#000" stroke-width="1.9"/>
<line x1="1333.06" y1="38.8" x2="1333.06" y2="35.6" stroke="#000" stroke-width="1.9"/>
<line x1="1365.9" y1="777.5" x2="1365.9" y2="783.9" stroke="#000" stroke-width="1.9"/>
<line x1="1365.9" y1="38.8" x2="1365.9" y2="32.4" stroke="#000" stroke-width="1.9"/>
<line x1="1398.74" y1="777.5" x2="1398.74" y2="780.7" stroke="#000" stroke-width="1.9"/>
<line x1="1398.74" y1="38.8" x2="1398.74" y2="35.6" stroke="#000" stroke-width="1.9"/>
<line x1="1431.58" y1="777.5" x2="1431.58" y2="780.7" stroke="#000" stroke-width="1.9"/>
<line x1="1431.58" y1="38.8" x2="1431.58" y2="35.6" stroke="#000" stroke-width="1.9"/>
<line x1="1464.42" y1="777.5" x2="1464.42" y2="780.7" stroke="#000" stroke-width="1.9"/>
<line x1="1464.42" y1="38.8" x2="1464.42" y2="35.6" stroke="#000" stroke-width="1.9"/>
<line x1="1497.26" y1="777.5" x2="1497.26" y2="780.7" stroke="#000" stroke-width="1.9"/>
<line x1="1497.26" y1="38.8" x2="1497.26" y2="35.6" stroke="#000" stroke-width="1.9"/>
<line x1="1530.1" y1="777.5" x2="1530.1" y2="783.9" stroke="#000" stroke-width="1.9"/>
<line x1="1530.1" y1="38.8" x2="1530.1" y2="32.4" stroke="#000" stroke-width="1.9"/>
<line x1="1562.94" y1="777.5" x2="1562.94" y2="780.7" stroke="#000" stroke-width="1.9"/>
<line x1="1562.94" y1="38.8" x2="1562.94" y2="35.6" stroke="#000" stroke-width="1.9"/>
<line x1="1595.78" y1="777.5" x2="1595.78" y2="780.7" stroke="#000" stroke-width="1.9"/>
<line x1="1595.78" y1="38.8" x2="1595.78" y2="35.6" stroke="#000" stroke-width="1.9"/>
<line x1="1628.62" y1="777.5" x2="1628.62" y2="780.7" stroke="#000" stroke-width="1.9"/>
<line x1="1628.62" y1="38.8" x2="1628.62" y2="35.6" stroke="#000" stroke-width="1.9"/>
<line x1="1661.46" y1="777.5" x2="1661.46" y2="780.7" stroke="#000" stroke-width="1.9"/>
<line x1="1661.46" y1="38.8" x2="1661.46" y2="35.6" stroke="#000" stroke-width="1.9"/>
<line x1="1694.3" y1="777.5" x2="1694.3" y2="783.9" stroke="#000" stroke-width="1.9"/>
<line x1="1694.3" y1="38.8" x2="1694.3" y2="32.4" stroke="#000" stroke-width="1.9"/>
<line x1="1727.14" y1="777.5" x2="1727.14" y2="780.7" stroke="#000" stroke-width="1.9"/>
<line x1="1727.14" y1="38.8" x2="1727.14" y2="35.6" stroke="#000" stroke-width="1.9"/>
<line x1="1759.98" y1="777.5" x2="1759.98" y2="780.7" stroke="#000" stroke-width="1.9"/>
<line x1="1759.98" y1="38.8" x2="1759.98" y2="35.6" stroke="#000" stroke-width="1.9"/>
<line x1="1792.82" y1="777.5" x2="1792.82" y2="780.7" stroke="#000" stroke-width="1.9"/>
<line x1="1792.82" y1="38.8" x2="1792.82" y2="35.6" stroke="#000" stroke-width="1.9"/>
<line x1="1825.66" y1="777.5" x2="1825.66" y2="780.7" stroke="#000" stroke-width="1.9"/>
<line x1="1825.66" y1="38.8" x2="1825.66" y2="35.6" stroke="#000" stroke-width="1.9"/>
<line x1="1858.5" y1="777.5" x2="1858.5" y2="783.9" stroke="#000" stroke-width="1.9"/>
<line x1="1858.5" y1="38.8" x2="1858.5" y2="32.4" stroke="#000" stroke-width="1.9"/>
<line x1="1222.6" y1="67.26" x2="1219.4" y2="67.26" stroke="#000" stroke-width="1.9"/>
<line x1="1879.4" y1="67.26" x2="1882.6" y2="67.26" stroke="#000" stroke-width="1.9"/>
<line x1="1222.6" y1="100.1" x2="1216.2" y2="100.1" stroke="#000" stroke-width="1.9"/>
<line x1="1879.4" y1="100.1" x2="1885.8" y2="100.1" stroke="#000" stroke-width="1.9"/>
<line x1="1222.6" y1="132.94" x2="1219.4" y2="132.94" stroke="#000" stroke-width="1.9"/>
<line x1="1879.4" y1="132.94" x2="1882.6" y2="132.94" stroke="#000" stroke-width="1.9"/>
<line x1="1222.6" y1="165.78" x2="1219.4" y2="165.78" stroke="#000" stroke-width="1.9"/>
<line x1="1879.4" y1="165.78" x2="1882.6" y2="165.78" stroke="#000" stroke-width="1.9"/>
<line x1="1222.6" y1="198.62" x2="1219.4" y2="198.62" stroke="#000" stroke-width="1.9"/>
<line x1="1879.4" y1="198.62" x2="1882.6" y2="198.62" stroke="#000" stroke-width="1.9"/>
<line x1="1222.6" y1="231.46" x2="1219.4" y2="231.46" stroke="#000" stroke-width="1.9"/>
<line x1="1879.4" y1="231.46" x2="1882.6" y2="231.46" stroke="#000" stroke-width="1.9"/>
<line x1="1222.6" y1="264.3" x2="1216.2" y2="264.3" stroke="#000" stroke-width="1.9"/>
<line x1="1879.4" y1="264.3" x2="1885.8" y2="264.3" stroke="#000" stroke-width="1.9"/>
<line x1="1222.6" y1="297.14" x2="1219.4" y2="297.14" stroke="#000" stroke-width="1.9"/>
<line x1="1879.4" y1="297.14" x2="1882.6" y2="297.14" stroke="#000" stroke-width="1.9"/>
<line x1="1222.6" y1="329.98" x2="1219.4" y2="329.98" stroke="#000" stroke-width="1.9"/>
<line x1="1879.4" y1="329.98" x2="1882.6" y2="329.98" stroke="#000" stroke-width="1.9"/>
<line x1="1222.6" y1="362.82" x2="1219.4" y2="362.82" stroke="#000" stroke-width="1.9"/>
<line x1="1879.4" y1="362.82" x2="1882.6" y2="362.82" stroke="#000" stroke-width="1.9"/>
<line x1="1222.6" y1="395.66" x2="1219.4" y2="395.66" stroke="#000" stroke-width="1.9"/>
<line x1="1879.4" y1="395.66" x2="1882.6" y2="395.66" stroke="#000" stroke-width="1.9"/>
<line x1="1222.6" y1="428.5" x2="1216.2" y2="428.5" stroke="#000" stroke-width="1.9"/>
<line x1="1879.4" y1="428.5" x2="1885.8" y2="428.5" stroke="#000" stroke-width="1.9"/>
<line x1="1222.6" y1="461.34" x2="1219.4" y2="461.34" stroke="#000" stroke-width="1.9"/>
<line x1="1879.4" y1="461.34" x2="1882.6" y2="461.34" stroke="#000" stroke-width="1.9"/>
<line x1="1222.6" y1="494.18" x2="1219.4" y2="494.18" stroke="#000" stroke-width="1.9"/>
<line x1="1879.4" y1="494.18" x2="1882.6" y2="494.18" stroke="#000" stroke-width="1.9"/>
<line x1="1222.6" y1="527.02" x2="1219.4" y2="527.02" stroke="#000" stroke-width="1.9"/>
<line x1="1879.4" y1="527.02" x2="1882.6" y2="527.02" stroke="#000" stroke-width="1.9"/>
<line x1="1222.6" y1="559.86" x2="1219.4" y2="559.86" stroke="#000" stroke-width="1.9"/>
<line x1="1879.4" y1="559.86" x2="1882.6" y2="559.86" stroke="#000" stroke-width="1.9"/>
<line x1="1222.6" y1="592.7" x2="1216.2" y2="592.7" stroke="#000" stroke-width="1.9"/>
<line x1="1879.4" y1="592.7" x2="1885.8" y2="592.7" stroke="#000" stroke-width="1.9"/>
<line x1="1222.6" y1="625.54" x2="1219.4" y2="625.54" stroke="#000" stroke-width="1.9"/>
<line x1="1879.4" y1="625.54" x2="1882.6" y2="625.54" stroke="#000" stroke-width="1.9"/>
<line x1="1222.6" y1="658.38" x2="1219.4" y2="658.38" stroke="#000" stroke-width="1.9"/>
<line x1="1879.4" y1="658.38" x2="1882.6" y2="658.38" stroke="#000" stroke-width="1.9"/>
<line x1="1222.6" y1="691.22" x2="1219.4" y2="691.22" stroke="#000" stroke-width="1.9"/>
<line x1="1879.4" y1="691.22" x2="1882.6" y2="691.22" stroke="#000" stroke-width="1.9"/>
<line x1="1222.6" y1="724.06" x2="1219.4" y2="724.06" stroke="#000" stroke-width="1.9"/>
<line x1="1879.4" y1="724.06" x2="1882.6" y2="724.06" stroke="#000" stroke-width="1.9"/>
<line x1="1222.6" y1="756.9" x2="1216.2" y2="756.9" stroke="#000" stroke-width="1.9"/>
<line x1="1879.4" y1="756.9" x2="1885.8" y2="756.9" stroke="#000" stroke-width="1.9"/>
<rect x="1222.6" y="38.8" width="656.8" height="738.7" fill="none" stroke="#000" stroke-width="1.7"/>
<text transform="translate(1858.5 818.4) scale(1 1.045)" font-family="'Liberation Sans', sans-serif" font-size="37.8" text-anchor="middle" fill="#000" stroke="#000" stroke-width="0.56">20<tspan stroke="none">′</tspan></text>
<text transform="translate(1694.3 818.4) scale(1 1.045)" font-family="'Liberation Sans', sans-serif" font-size="37.8" text-anchor="middle" fill="#000" stroke="#000" stroke-width="0.56">22<tspan stroke="none">′</tspan></text>
<text transform="translate(1530.1 818.4) scale(1 1.045)" font-family="'Liberation Sans', sans-serif" font-size="37.8" text-anchor="middle" fill="#000" stroke="#000" stroke-width="0.56">24<tspan stroke="none">′</tspan></text>
<text transform="translate(1365.9 818.4) scale(1 1.045)" font-family="'Liberation Sans', sans-serif" font-size="37.8" text-anchor="middle" fill="#000" stroke="#000" stroke-width="0.56">16<tspan stroke="none" dy="2.08">°</tspan><tspan dy="-2.08">&#8203;</tspan>26<tspan stroke="none">′</tspan></text>
<text transform="translate(1211.2 111.6) scale(1 1.045)" font-family="'Liberation Sans', sans-serif" font-size="37.8" text-anchor="end" fill="#000" stroke="#000" stroke-width="0.56">0<tspan stroke="none" dy="2.08">°</tspan><tspan dy="-2.08">&#8203;</tspan>08<tspan stroke="none">′</tspan></text>
<text transform="translate(1211.2 274.8) scale(1 1.045)" font-family="'Liberation Sans', sans-serif" font-size="37.8" text-anchor="end" fill="#000" stroke="#000" stroke-width="0.56">06<tspan stroke="none">′</tspan></text>
<text transform="translate(1211.2 439) scale(1 1.045)" font-family="'Liberation Sans', sans-serif" font-size="37.8" text-anchor="end" fill="#000" stroke="#000" stroke-width="0.56">04<tspan stroke="none">′</tspan></text>
<text transform="translate(1211.2 603.2) scale(1 1.045)" font-family="'Liberation Sans', sans-serif" font-size="37.8" text-anchor="end" fill="#000" stroke="#000" stroke-width="0.56">02<tspan stroke="none">′</tspan></text>
<text transform="translate(1211.2 767.4) scale(1 1.045)" font-family="'Liberation Sans', sans-serif" font-size="37.8" text-anchor="end" fill="#000" stroke="#000" stroke-width="0.56">00<tspan stroke="none">′</tspan></text>
<text transform="translate(1551 875.2) scale(1 1.02)" font-family="'Liberation Sans', sans-serif" font-size="38.1" text-anchor="middle" fill="#000" stroke="#000" stroke-width="0.57">Galactic Longitude</text>
<text transform="translate(1096.8 408.15) rotate(-90) scale(1 1.02)" font-family="'Liberation Sans', sans-serif" font-size="38.1" text-anchor="middle" fill="#000" stroke="#000" stroke-width="0.57">Galactic Latitude</text>
<text transform="translate(1598.8 95.9) scale(1 1.02)" font-family="'Liberation Sans', sans-serif" font-size="35.2" text-anchor="start" fill="#fff" stroke="#fff" stroke-width="0.52">cloud 11061298</text>
<linearGradient id="g2" x1="0" y1="1" x2="0" y2="0"><stop offset="0" stop-color="#000000"/><stop offset="0.365079" stop-color="#515171"/><stop offset="0.746032" stop-color="#a6c6c6"/><stop offset="1" stop-color="#ffffff"/></linearGradient>
<rect x="1912.6" y="38.8" width="37.2" height="738.7" fill="url(#g2)" stroke="#000" stroke-width="1.4"/>
<line x1="1949.8" y1="644.4" x2="1955.3" y2="644.4" stroke="#000" stroke-width="1.9"/>
<text transform="translate(1961 657.8) scale(1 1.045)" font-family="'Liberation Sans', sans-serif" font-size="35.8" text-anchor="start" fill="#000" stroke="#000" stroke-width="0.53">2</text>
<line x1="1949.8" y1="501.8" x2="1955.3" y2="501.8" stroke="#000" stroke-width="1.9"/>
<text transform="translate(1961 515.2) scale(1 1.045)" font-family="'Liberation Sans', sans-serif" font-size="35.8" text-anchor="start" fill="#000" stroke="#000" stroke-width="0.53">4</text>
<line x1="1949.8" y1="359.2" x2="1955.3" y2="359.2" stroke="#000" stroke-width="1.9"/>
<text transform="translate(1961 372.6) scale(1 1.045)" font-family="'Liberation Sans', sans-serif" font-size="35.8" text-anchor="start" fill="#000" stroke="#000" stroke-width="0.53">6</text>
<line x1="1949.8" y1="216.6" x2="1955.3" y2="216.6" stroke="#000" stroke-width="1.9"/>
<text transform="translate(1961 230) scale(1 1.045)" font-family="'Liberation Sans', sans-serif" font-size="35.8" text-anchor="start" fill="#000" stroke="#000" stroke-width="0.53">8</text>
<line x1="1949.8" y1="74" x2="1955.3" y2="74" stroke="#000" stroke-width="1.9"/>
<text transform="translate(1961 87.4) scale(1 1.045)" font-family="'Liberation Sans', sans-serif" font-size="35.8" text-anchor="start" fill="#000" stroke="#000" stroke-width="0.53">10</text>
<text transform="translate(1865 27.9) scale(1 1.02)" font-family="'Liberation Sans', sans-serif" font-size="33.5" text-anchor="start" fill="#000" stroke="#000" stroke-width="0.5">K km s<tspan font-size="23.79" dy="-12.06">−1</tspan></text>
<text y="949.7" font-family="'Liberation Serif', serif" font-size="35.5" fill="#000" stroke="#000" stroke-width="0.25"><tspan x="258.5" textLength="40.5" lengthAdjust="spacingAndGlyphs">(a)</tspan> <tspan x="313.5" textLength="91.8" lengthAdjust="spacingAndGlyphs">Image</tspan> <tspan x="418.2" textLength="27.3" lengthAdjust="spacingAndGlyphs">of</tspan> <tspan x="458.1" textLength="81" lengthAdjust="spacingAndGlyphs">cloud</tspan> <tspan x="553.8" textLength="130.5" lengthAdjust="spacingAndGlyphs">1932340.</tspan></text>
<text y="949.7" font-family="'Liberation Serif', serif" font-size="35.5" fill="#000" stroke="#000" stroke-width="0.25"><tspan x="1313.3" textLength="42.9" lengthAdjust="spacingAndGlyphs">(b)</tspan> <tspan x="1370.7" textLength="91.8" lengthAdjust="spacingAndGlyphs">Image</tspan> <tspan x="1475.9" textLength="26.6" lengthAdjust="spacingAndGlyphs">of</tspan> <tspan x="1515.3" textLength="81.1" lengthAdjust="spacingAndGlyphs">cloud</tspan> <tspan x="1612.2" textLength="146.8" lengthAdjust="spacingAndGlyphs">11061298.</tspan></text>
<text y="1552.9" font-family="'Liberation Serif', serif" font-size="35.5" fill="#000" stroke="#000" stroke-width="0.25"><tspan x="133.7" textLength="39.6" lengthAdjust="spacingAndGlyphs">(c)</tspan> <tspan x="187.5" textLength="211.7" lengthAdjust="spacingAndGlyphs">Flux-intensity</tspan> <tspan x="413.6" textLength="116.3" lengthAdjust="spacingAndGlyphs">relation</tspan> <tspan x="543.7" textLength="27.6" lengthAdjust="spacingAndGlyphs">of</tspan> <tspan x="584.4" textLength="80.5" lengthAdjust="spacingAndGlyphs">cloud</tspan> <tspan x="679.9" textLength="130" lengthAdjust="spacingAndGlyphs">1932340.</tspan></text>
<text y="1552.9" font-family="'Liberation Serif', serif" font-size="35.5" fill="#000" stroke="#000" stroke-width="0.25"><tspan x="1188" textLength="43" lengthAdjust="spacingAndGlyphs">(d)</tspan> <tspan x="1245.4" textLength="212.5" lengthAdjust="spacingAndGlyphs">Flux-intensity</tspan> <tspan x="1471.3" textLength="116.4" lengthAdjust="spacingAndGlyphs">relation</tspan> <tspan x="1601.8" textLength="27.2" lengthAdjust="spacingAndGlyphs">of</tspan> <tspan x="1642.3" textLength="79.9" lengthAdjust="spacingAndGlyphs">cloud</tspan> <tspan x="1737.3" textLength="147.3" lengthAdjust="spacingAndGlyphs">11061298.</tspan></text>
<line x1="95.6" y1="1033.1" x2="95.6" y2="1428.3" stroke="#bcbcbc" stroke-width="1.9"/>
<line x1="78.7" y1="1409.6" x2="454.5" y2="1409.6" stroke="#bcbcbc" stroke-width="1.9"/>
<path d="M95.6 1050.06 L98.44 1069.69 L101.29 1088.26 L104.13 1105.82 L106.98 1122.42 L109.82 1138.11 L112.67 1152.95 L115.51 1166.99 L118.36 1180.25 L121.2 1192.8 L124.05 1204.66 L126.89 1215.87 L129.74 1226.47 L132.58 1236.5 L135.42 1245.98 L138.27 1254.94 L141.11 1263.41 L143.96 1271.43 L146.8 1279 L149.65 1286.16 L152.49 1292.94 L155.34 1299.34 L158.18 1305.39 L161.03 1311.12 L163.87 1316.53 L166.71 1321.65 L169.56 1326.49 L172.4 1331.06 L175.25 1335.39 L178.09 1339.48 L180.94 1343.35 L183.78 1347 L186.63 1350.46 L189.47 1353.73 L192.32 1356.82 L195.16 1359.74 L198.01 1362.5 L200.85 1365.12 L203.69 1367.59 L206.54 1369.92 L209.38 1372.13 L212.23 1374.22 L215.07 1376.19 L217.92 1378.06 L220.76 1379.82 L223.61 1381.49 L226.45 1383.07 L229.3 1384.56 L232.14 1385.97 L234.99 1387.31 L237.83 1388.57 L240.67 1389.76 L243.52 1390.89 L246.36 1391.95 L249.21 1392.96 L252.05 1393.91 L254.9 1394.81 L257.74 1395.66 L260.59 1396.47 L263.43 1397.23 L266.28 1397.95 L269.12 1398.63 L271.97 1399.28 L274.81 1399.88 L277.65 1400.46 L280.5 1401 L283.34 1401.52 L286.19 1402 L289.03 1402.46 L291.88 1402.9 L294.72 1403.31 L297.57 1403.7 L300.41 1404.07 L303.26 1404.41 L306.1 1404.74 L308.95 1405.05 L311.79 1405.35 L314.63 1405.63 L317.48 1405.89 L320.32 1406.14 L323.17 1406.37 L326.01 1406.59 L328.86 1406.8 L331.7 1407 L334.55 1407.19 L337.39 1407.37 L340.24 1407.53 L343.08 1407.69 L345.92 1407.84 L348.77 1407.98 L351.61 1408.12 L354.46 1408.24 L357.3 1408.36 L360.15 1408.48 L362.99 1408.59 L365.84 1408.69 L368.68 1408.78 L371.53 1408.87 L374.37 1408.96 L377.22 1409.04 L380.06 1409.12 L382.9 1409.19 L385.75 1409.26 L388.59 1409.32 L391.44 1409.38 L394.28 1409.44 L397.13 1409.5 L399.97 1409.55 L402.82 1409.6 L405.66 1409.64 L408.51 1409.69 L411.35 1409.73 L414.2 1409.77 L417.04 1409.8 L419.88 1409.84 L422.73 1409.87 L425.57 1409.9 L428.42 1409.93 L431.26 1409.96 L434.11 1409.99 L436.95 1410.01" fill="none" stroke="#0000ff" stroke-width="2"/>
<circle cx="200.14" cy="1365.43" r="2.6" fill="#4a4a4a"/>
<circle cx="221.7" cy="1379.09" r="2.6" fill="#4a4a4a"/>
<circle cx="243.26" cy="1390.23" r="2.6" fill="#4a4a4a"/>
<circle cx="264.82" cy="1398.13" r="2.6" fill="#4a4a4a"/>
<circle cx="286.38" cy="1403.16" r="2.6" fill="#4a4a4a"/>
<circle cx="307.94" cy="1405.68" r="2.6" fill="#4a4a4a"/>
<circle cx="329.5" cy="1407.83" r="2.6" fill="#4a4a4a"/>
<circle cx="351.06" cy="1408.55" r="2.6" fill="#4a4a4a"/>
<circle cx="372.62" cy="1409.27" r="2.6" fill="#4a4a4a"/>
<circle cx="394.18" cy="1409.63" r="2.6" fill="#4a4a4a"/>
<circle cx="415.74" cy="1409.63" r="2.6" fill="#4a4a4a"/>
<circle cx="437.3" cy="1409.63" r="2.6" fill="#4a4a4a"/>
<line x1="95.6" y1="1428.3" x2="95.6" y2="1433.3" stroke="#222" stroke-width="1.2"/>
<text transform="translate(95.6 1453.6) scale(1 1.045)" font-family="'Liberation Sans', sans-serif" font-size="23.4" text-anchor="middle" fill="#000" stroke="#000" stroke-width="0.35">0</text>
<line x1="181.8" y1="1428.3" x2="181.8" y2="1433.3" stroke="#222" stroke-width="1.2"/>
<text transform="translate(181.8 1453.6) scale(1 1.045)" font-family="'Liberation Sans', sans-serif" font-size="23.4" text-anchor="middle" fill="#000" stroke="#000" stroke-width="0.35">1</text>
<line x1="268" y1="1428.3" x2="268" y2="1433.3" stroke="#222" stroke-width="1.2"/>
<text transform="translate(268 1453.6) scale(1 1.045)" font-family="'Liberation Sans', sans-serif" font-size="23.4" text-anchor="middle" fill="#000" stroke="#000" stroke-width="0.35">2</text>
<line x1="354.2" y1="1428.3" x2="354.2" y2="1433.3" stroke="#222" stroke-width="1.2"/>
<text transform="translate(354.2 1453.6) scale(1 1.045)" font-family="'Liberation Sans', sans-serif" font-size="23.4" text-anchor="middle" fill="#000" stroke="#000" stroke-width="0.35">3</text>
<line x1="440.4" y1="1428.3" x2="440.4" y2="1433.3" stroke="#222" stroke-width="1.2"/>
<text transform="translate(440.4 1453.6) scale(1 1.045)" font-family="'Liberation Sans', sans-serif" font-size="23.4" text-anchor="middle" fill="#000" stroke="#000" stroke-width="0.35">4</text>
<line x1="78.7" y1="1409.6" x2="73.7" y2="1409.6" stroke="#222" stroke-width="1.2"/>
<text transform="translate(70.7 1418.4) scale(1 1.045)" font-family="'Liberation Sans', sans-serif" font-size="23.4" text-anchor="end" fill="#000" stroke="#000" stroke-width="0.35">0</text>
<line x1="78.7" y1="1325.2" x2="73.7" y2="1325.2" stroke="#222" stroke-width="1.2"/>
<text transform="translate(70.7 1334) scale(1 1.045)" font-family="'Liberation Sans', sans-serif" font-size="23.4" text-anchor="end" fill="#000" stroke="#000" stroke-width="0.35">100</text>
<line x1="78.7" y1="1240.8" x2="73.7" y2="1240.8" stroke="#222" stroke-width="1.2"/>
<text transform="translate(70.7 1249.6) scale(1 1.045)" font-family="'Liberation Sans', sans-serif" font-size="23.4" text-anchor="end" fill="#000" stroke="#000" stroke-width="0.35">200</text>
<line x1="78.7" y1="1156.4" x2="73.7" y2="1156.4" stroke="#222" stroke-width="1.2"/>
<text transform="translate(70.7 1165.2) scale(1 1.045)" font-family="'Liberation Sans', sans-serif" font-size="23.4" text-anchor="end" fill="#000" stroke="#000" stroke-width="0.35">300</text>
<line x1="78.7" y1="1072" x2="73.7" y2="1072" stroke="#222" stroke-width="1.2"/>
<text transform="translate(70.7 1080.8) scale(1 1.045)" font-family="'Liberation Sans', sans-serif" font-size="23.4" text-anchor="end" fill="#000" stroke="#000" stroke-width="0.35">400</text>
<rect x="78.7" y="1033.1" width="375.8" height="395.2" fill="none" stroke="#222" stroke-width="1.5"/>
<text transform="translate(21.6 1230.3) rotate(-90) scale(1 1.02)" font-family="'Liberation Sans', sans-serif" font-size="23.8" text-anchor="middle" fill="#000" stroke="#000" stroke-width="0.35" textLength="303.3" lengthAdjust="spacing"><tspan font-size="16.9" dy="-8.57">12</tspan><tspan dy="8.57">CO flux (K km s</tspan><tspan font-size="16.9" dy="-8.57">−1</tspan><tspan dy="8.57"> arcmin</tspan><tspan font-size="16.9" dy="-8.57">2</tspan><tspan dy="8.57">)</tspan></text>
<text transform="translate(266.6 1483.3) scale(1 1.02)" font-family="'Liberation Sans', sans-serif" font-size="23.8" text-anchor="middle" fill="#000" stroke="#000" stroke-width="0.35">Intensity of <tspan font-size="16.9" dy="-8.57">12</tspan><tspan dy="8.57">CO (K)</tspan></text>
<line x1="583.5" y1="1033.1" x2="583.5" y2="1428.3" stroke="#bcbcbc" stroke-width="1.9"/>
<line x1="583.5" y1="1050.5" x2="925.6" y2="1357.5" stroke="#0000ff" stroke-width="2"/>
<circle cx="687.33" cy="1145.17" r="2.6" fill="#4a4a4a"/>
<circle cx="708.89" cy="1161.34" r="2.6" fill="#4a4a4a"/>
<circle cx="730.45" cy="1181.1" r="2.6" fill="#4a4a4a"/>
<circle cx="752.01" cy="1204.1" r="2.6" fill="#4a4a4a"/>
<circle cx="773.57" cy="1227.81" r="2.6" fill="#4a4a4a"/>
<circle cx="795.13" cy="1245.78" r="2.6" fill="#4a4a4a"/>
<circle cx="816.69" cy="1270.21" r="2.6" fill="#4a4a4a"/>
<circle cx="838.25" cy="1285.66" r="2.6" fill="#4a4a4a"/>
<circle cx="859.81" cy="1298.6" r="2.6" fill="#4a4a4a"/>
<circle cx="881.37" cy="1309.38" r="2.6" fill="#4a4a4a"/>
<circle cx="902.92" cy="1309.38" r="2.6" fill="#4a4a4a"/>
<circle cx="924.48" cy="1309.38" r="2.6" fill="#4a4a4a"/>
<line x1="583.5" y1="1428.3" x2="583.5" y2="1433.3" stroke="#222" stroke-width="1.2"/>
<text transform="translate(583.5 1453.6) scale(1 1.045)" font-family="'Liberation Sans', sans-serif" font-size="23.4" text-anchor="middle" fill="#000" stroke="#000" stroke-width="0.35">0</text>
<line x1="669.65" y1="1428.3" x2="669.65" y2="1433.3" stroke="#222" stroke-width="1.2"/>
<text transform="translate(669.65 1453.6) scale(1 1.045)" font-family="'Liberation Sans', sans-serif" font-size="23.4" text-anchor="middle" fill="#000" stroke="#000" stroke-width="0.35">1</text>
<line x1="755.8" y1="1428.3" x2="755.8" y2="1433.3" stroke="#222" stroke-width="1.2"/>
<text transform="translate(755.8 1453.6) scale(1 1.045)" font-family="'Liberation Sans', sans-serif" font-size="23.4" text-anchor="middle" fill="#000" stroke="#000" stroke-width="0.35">2</text>
<line x1="841.95" y1="1428.3" x2="841.95" y2="1433.3" stroke="#222" stroke-width="1.2"/>
<text transform="translate(841.95 1453.6) scale(1 1.045)" font-family="'Liberation Sans', sans-serif" font-size="23.4" text-anchor="middle" fill="#000" stroke="#000" stroke-width="0.35">3</text>
<line x1="928.1" y1="1428.3" x2="928.1" y2="1433.3" stroke="#222" stroke-width="1.2"/>
<text transform="translate(928.1 1453.6) scale(1 1.045)" font-family="'Liberation Sans', sans-serif" font-size="23.4" text-anchor="middle" fill="#000" stroke="#000" stroke-width="0.35">4</text>
<line x1="566.6" y1="1400.46" x2="564" y2="1400.46" stroke="#111" stroke-width="1.2"/>
<line x1="566.6" y1="1381.95" x2="564" y2="1381.95" stroke="#111" stroke-width="1.2"/>
<line x1="566.6" y1="1368.82" x2="564" y2="1368.82" stroke="#111" stroke-width="1.2"/>
<line x1="566.6" y1="1358.64" x2="564" y2="1358.64" stroke="#111" stroke-width="1.2"/>
<line x1="566.6" y1="1350.32" x2="564" y2="1350.32" stroke="#111" stroke-width="1.2"/>
<line x1="566.6" y1="1343.28" x2="564" y2="1343.28" stroke="#111" stroke-width="1.2"/>
<line x1="566.6" y1="1337.19" x2="564" y2="1337.19" stroke="#111" stroke-width="1.2"/>
<line x1="566.6" y1="1331.81" x2="564" y2="1331.81" stroke="#111" stroke-width="1.2"/>
<line x1="566.6" y1="1327" x2="561.6" y2="1327" stroke="#222" stroke-width="1.2"/>
<text transform="translate(558.3 1335.9) scale(1 1.02)" font-family="'Liberation Sans', sans-serif" font-size="23.4" text-anchor="end" fill="#000" stroke="#000" stroke-width="0.35">10<tspan font-size="16.61" dy="-8.42">0</tspan></text>
<line x1="566.6" y1="1295.36" x2="564" y2="1295.36" stroke="#111" stroke-width="1.2"/>
<line x1="566.6" y1="1276.85" x2="564" y2="1276.85" stroke="#111" stroke-width="1.2"/>
<line x1="566.6" y1="1263.72" x2="564" y2="1263.72" stroke="#111" stroke-width="1.2"/>
<line x1="566.6" y1="1253.54" x2="564" y2="1253.54" stroke="#111" stroke-width="1.2"/>
<line x1="566.6" y1="1245.22" x2="564" y2="1245.22" stroke="#111" stroke-width="1.2"/>
<line x1="566.6" y1="1238.18" x2="564" y2="1238.18" stroke="#111" stroke-width="1.2"/>
<line x1="566.6" y1="1232.09" x2="564" y2="1232.09" stroke="#111" stroke-width="1.2"/>
<line x1="566.6" y1="1226.71" x2="564" y2="1226.71" stroke="#111" stroke-width="1.2"/>
<line x1="566.6" y1="1221.9" x2="561.6" y2="1221.9" stroke="#222" stroke-width="1.2"/>
<text transform="translate(558.3 1230.8) scale(1 1.02)" font-family="'Liberation Sans', sans-serif" font-size="23.4" text-anchor="end" fill="#000" stroke="#000" stroke-width="0.35">10<tspan font-size="16.61" dy="-8.42">1</tspan></text>
<line x1="566.6" y1="1190.26" x2="564" y2="1190.26" stroke="#111" stroke-width="1.2"/>
<line x1="566.6" y1="1171.75" x2="564" y2="1171.75" stroke="#111" stroke-width="1.2"/>
<line x1="566.6" y1="1158.62" x2="564" y2="1158.62" stroke="#111" stroke-width="1.2"/>
<line x1="566.6" y1="1148.44" x2="564" y2="1148.44" stroke="#111" stroke-width="1.2"/>
<line x1="566.6" y1="1140.12" x2="564" y2="1140.12" stroke="#111" stroke-width="1.2"/>
<line x1="566.6" y1="1133.08" x2="564" y2="1133.08" stroke="#111" stroke-width="1.2"/>
<line x1="566.6" y1="1126.99" x2="564" y2="1126.99" stroke="#111" stroke-width="1.2"/>
<line x1="566.6" y1="1121.61" x2="564" y2="1121.61" stroke="#111" stroke-width="1.2"/>
<line x1="566.6" y1="1116.8" x2="561.6" y2="1116.8" stroke="#222" stroke-width="1.2"/>
<text transform="translate(558.3 1125.7) scale(1 1.02)" font-family="'Liberation Sans', sans-serif" font-size="23.4" text-anchor="end" fill="#000" stroke="#000" stroke-width="0.35">10<tspan font-size="16.61" dy="-8.42">2</tspan></text>
<line x1="566.6" y1="1085.16" x2="564" y2="1085.16" stroke="#111" stroke-width="1.2"/>
<line x1="566.6" y1="1066.65" x2="564" y2="1066.65" stroke="#111" stroke-width="1.2"/>
<line x1="566.6" y1="1053.52" x2="564" y2="1053.52" stroke="#111" stroke-width="1.2"/>
<line x1="566.6" y1="1043.34" x2="564" y2="1043.34" stroke="#111" stroke-width="1.2"/>
<line x1="566.6" y1="1035.02" x2="564" y2="1035.02" stroke="#111" stroke-width="1.2"/>
<text transform="translate(598.2 1391.7) scale(1 1.02)" font-family="'Liberation Sans', sans-serif" font-size="21.2" text-anchor="start" fill="#000" stroke="#000" stroke-width="0.31">cloud 1932340</text>
<rect x="566.6" y="1033.1" width="375.5" height="395.2" fill="none" stroke="#222" stroke-width="1.5"/>
<text transform="translate(513.4 1230.3) rotate(-90) scale(1 1.02)" font-family="'Liberation Sans', sans-serif" font-size="23.8" text-anchor="middle" fill="#000" stroke="#000" stroke-width="0.35" textLength="303.3" lengthAdjust="spacing"><tspan font-size="16.9" dy="-8.57">12</tspan><tspan dy="8.57">CO flux (K km s</tspan><tspan font-size="16.9" dy="-8.57">−1</tspan><tspan dy="8.57"> arcmin</tspan><tspan font-size="16.9" dy="-8.57">2</tspan><tspan dy="8.57">)</tspan></text>
<text transform="translate(754.3 1483.3) scale(1 1.02)" font-family="'Liberation Sans', sans-serif" font-size="23.8" text-anchor="middle" fill="#000" stroke="#000" stroke-width="0.35">Intensity of <tspan font-size="16.9" dy="-8.57">12</tspan><tspan dy="8.57">CO (K)</tspan></text>
<line x1="1161" y1="1033.1" x2="1161" y2="1428.3" stroke="#bcbcbc" stroke-width="1.9"/>
<line x1="1143.7" y1="1410.3" x2="1519.6" y2="1410.3" stroke="#bcbcbc" stroke-width="1.9"/>
<path d="M1161 1051.25 L1163.85 1067.18 L1166.7 1082.39 L1169.55 1096.93 L1172.4 1110.82 L1175.24 1124.08 L1178.09 1136.76 L1180.94 1148.87 L1183.79 1160.44 L1186.64 1171.49 L1189.49 1182.05 L1192.34 1192.14 L1195.19 1201.78 L1198.04 1210.99 L1200.89 1219.79 L1203.73 1228.2 L1206.58 1236.23 L1209.43 1243.9 L1212.28 1251.23 L1215.13 1258.23 L1217.98 1264.92 L1220.83 1271.31 L1223.68 1277.42 L1226.53 1283.25 L1229.38 1288.82 L1232.22 1294.15 L1235.07 1299.24 L1237.92 1304.1 L1240.77 1308.74 L1243.62 1313.18 L1246.47 1317.41 L1249.32 1321.46 L1252.17 1325.33 L1255.02 1329.03 L1257.87 1332.56 L1260.71 1335.93 L1263.56 1339.15 L1266.41 1342.23 L1269.26 1345.17 L1272.11 1347.98 L1274.96 1350.67 L1277.81 1353.23 L1280.66 1355.68 L1283.51 1358.03 L1286.36 1360.26 L1289.2 1362.4 L1292.05 1364.44 L1294.9 1366.39 L1297.75 1368.25 L1300.6 1370.04 L1303.45 1371.74 L1306.3 1373.36 L1309.15 1374.91 L1312 1376.4 L1314.85 1377.81 L1317.69 1379.17 L1320.54 1380.46 L1323.39 1381.7 L1326.24 1382.88 L1329.09 1384 L1331.94 1385.08 L1334.79 1386.11 L1337.64 1387.09 L1340.49 1388.03 L1343.34 1388.93 L1346.18 1389.79 L1349.03 1390.61 L1351.88 1391.39 L1354.73 1392.14 L1357.58 1392.85 L1360.43 1393.54 L1363.28 1394.19 L1366.13 1394.81 L1368.98 1395.41 L1371.83 1395.98 L1374.67 1396.52 L1377.52 1397.04 L1380.37 1397.53 L1383.22 1398.01 L1386.07 1398.46 L1388.92 1398.89 L1391.77 1399.31 L1394.62 1399.7 L1397.47 1400.08 L1400.32 1400.44 L1403.16 1400.78 L1406.01 1401.11 L1408.86 1401.42 L1411.71 1401.72 L1414.56 1402.01 L1417.41 1402.29 L1420.26 1402.55 L1423.11 1402.8 L1425.96 1403.04 L1428.81 1403.26 L1431.65 1403.48 L1434.5 1403.69 L1437.35 1403.89 L1440.2 1404.08 L1443.05 1404.26 L1445.9 1404.43 L1448.75 1404.6 L1451.6 1404.76 L1454.45 1404.91 L1457.3 1405.05 L1460.14 1405.19 L1462.99 1405.32 L1465.84 1405.45 L1468.69 1405.57 L1471.54 1405.69 L1474.39 1405.8 L1477.24 1405.9 L1480.09 1406 L1482.94 1406.1 L1485.79 1406.19 L1488.63 1406.28 L1491.48 1406.36 L1494.33 1406.44 L1497.18 1406.52 L1500.03 1406.59 L1502.88 1406.66" fill="none" stroke="#0000ff" stroke-width="2"/>
<circle cx="1217.02" cy="1261.23" r="2.6" fill="#4a4a4a"/>
<circle cx="1229.96" cy="1288.9" r="2.6" fill="#4a4a4a"/>
<circle cx="1242.9" cy="1315.13" r="2.6" fill="#4a4a4a"/>
<circle cx="1255.83" cy="1334.53" r="2.6" fill="#4a4a4a"/>
<circle cx="1268.77" cy="1347.11" r="2.6" fill="#4a4a4a"/>
<circle cx="1281.7" cy="1357.17" r="2.6" fill="#4a4a4a"/>
<circle cx="1294.64" cy="1367.23" r="2.6" fill="#4a4a4a"/>
<circle cx="1307.57" cy="1375.13" r="2.6" fill="#4a4a4a"/>
<circle cx="1320.51" cy="1379.81" r="2.6" fill="#4a4a4a"/>
<circle cx="1333.45" cy="1384.12" r="2.6" fill="#4a4a4a"/>
<circle cx="1346.38" cy="1389.15" r="2.6" fill="#4a4a4a"/>
<circle cx="1359.32" cy="1393.1" r="2.6" fill="#4a4a4a"/>
<circle cx="1372.25" cy="1395.26" r="2.6" fill="#4a4a4a"/>
<circle cx="1385.19" cy="1397.05" r="2.6" fill="#4a4a4a"/>
<circle cx="1398.12" cy="1399.57" r="2.6" fill="#4a4a4a"/>
<circle cx="1411.06" cy="1402.8" r="2.6" fill="#4a4a4a"/>
<circle cx="1424" cy="1404.24" r="2.6" fill="#4a4a4a"/>
<circle cx="1436.93" cy="1405.32" r="2.6" fill="#4a4a4a"/>
<circle cx="1449.87" cy="1406.4" r="2.6" fill="#4a4a4a"/>
<circle cx="1462.8" cy="1406.76" r="2.6" fill="#4a4a4a"/>
<circle cx="1475.74" cy="1408.19" r="2.6" fill="#4a4a4a"/>
<circle cx="1488.67" cy="1408.91" r="2.6" fill="#4a4a4a"/>
<circle cx="1501.61" cy="1409.63" r="2.6" fill="#4a4a4a"/>
<line x1="1161" y1="1428.3" x2="1161" y2="1433.3" stroke="#222" stroke-width="1.2"/>
<text transform="translate(1161 1453.6) scale(1 1.045)" font-family="'Liberation Sans', sans-serif" font-size="23.4" text-anchor="middle" fill="#000" stroke="#000" stroke-width="0.35">0</text>
<line x1="1264.6" y1="1428.3" x2="1264.6" y2="1433.3" stroke="#222" stroke-width="1.2"/>
<text transform="translate(1264.6 1453.6) scale(1 1.045)" font-family="'Liberation Sans', sans-serif" font-size="23.4" text-anchor="middle" fill="#000" stroke="#000" stroke-width="0.35">2</text>
<line x1="1368.2" y1="1428.3" x2="1368.2" y2="1433.3" stroke="#222" stroke-width="1.2"/>
<text transform="translate(1368.2 1453.6) scale(1 1.045)" font-family="'Liberation Sans', sans-serif" font-size="23.4" text-anchor="middle" fill="#000" stroke="#000" stroke-width="0.35">4</text>
<line x1="1471.8" y1="1428.3" x2="1471.8" y2="1433.3" stroke="#222" stroke-width="1.2"/>
<text transform="translate(1471.8 1453.6) scale(1 1.045)" font-family="'Liberation Sans', sans-serif" font-size="23.4" text-anchor="middle" fill="#000" stroke="#000" stroke-width="0.35">6</text>
<line x1="1143.7" y1="1410.3" x2="1138.7" y2="1410.3" stroke="#222" stroke-width="1.2"/>
<text transform="translate(1135.7 1419.1) scale(1 1.045)" font-family="'Liberation Sans', sans-serif" font-size="23.4" text-anchor="end" fill="#000" stroke="#000" stroke-width="0.35">0</text>
<line x1="1143.7" y1="1356.55" x2="1138.7" y2="1356.55" stroke="#222" stroke-width="1.2"/>
<text transform="translate(1135.7 1365.35) scale(1 1.045)" font-family="'Liberation Sans', sans-serif" font-size="23.4" text-anchor="end" fill="#000" stroke="#000" stroke-width="0.35">25</text>
<line x1="1143.7" y1="1302.8" x2="1138.7" y2="1302.8" stroke="#222" stroke-width="1.2"/>
<text transform="translate(1135.7 1311.6) scale(1 1.045)" font-family="'Liberation Sans', sans-serif" font-size="23.4" text-anchor="end" fill="#000" stroke="#000" stroke-width="0.35">50</text>
<line x1="1143.7" y1="1249.05" x2="1138.7" y2="1249.05" stroke="#222" stroke-width="1.2"/>
<text transform="translate(1135.7 1257.85) scale(1 1.045)" font-family="'Liberation Sans', sans-serif" font-size="23.4" text-anchor="end" fill="#000" stroke="#000" stroke-width="0.35">75</text>
<line x1="1143.7" y1="1195.3" x2="1138.7" y2="1195.3" stroke="#222" stroke-width="1.2"/>
<text transform="translate(1135.7 1204.1) scale(1 1.045)" font-family="'Liberation Sans', sans-serif" font-size="23.4" text-anchor="end" fill="#000" stroke="#000" stroke-width="0.35">100</text>
<line x1="1143.7" y1="1141.55" x2="1138.7" y2="1141.55" stroke="#222" stroke-width="1.2"/>
<text transform="translate(1135.7 1150.35) scale(1 1.045)" font-family="'Liberation Sans', sans-serif" font-size="23.4" text-anchor="end" fill="#000" stroke="#000" stroke-width="0.35">125</text>
<line x1="1143.7" y1="1087.8" x2="1138.7" y2="1087.8" stroke="#222" stroke-width="1.2"/>
<text transform="translate(1135.7 1096.6) scale(1 1.045)" font-family="'Liberation Sans', sans-serif" font-size="23.4" text-anchor="end" fill="#000" stroke="#000" stroke-width="0.35">150</text>
<line x1="1143.7" y1="1034.05" x2="1138.7" y2="1034.05" stroke="#222" stroke-width="1.2"/>
<text transform="translate(1135.7 1042.85) scale(1 1.045)" font-family="'Liberation Sans', sans-serif" font-size="23.4" text-anchor="end" fill="#000" stroke="#000" stroke-width="0.35">175</text>
<rect x="1143.7" y="1033.1" width="375.9" height="395.2" fill="none" stroke="#222" stroke-width="1.5"/>
<text transform="translate(1087 1230.3) rotate(-90) scale(1 1.02)" font-family="'Liberation Sans', sans-serif" font-size="23.8" text-anchor="middle" fill="#000" stroke="#000" stroke-width="0.35" textLength="303.3" lengthAdjust="spacing"><tspan font-size="16.9" dy="-8.57">12</tspan><tspan dy="8.57">CO flux (K km s</tspan><tspan font-size="16.9" dy="-8.57">−1</tspan><tspan dy="8.57"> arcmin</tspan><tspan font-size="16.9" dy="-8.57">2</tspan><tspan dy="8.57">)</tspan></text>
<text transform="translate(1331.6 1483.3) scale(1 1.02)" font-family="'Liberation Sans', sans-serif" font-size="23.8" text-anchor="middle" fill="#000" stroke="#000" stroke-width="0.35">Intensity of <tspan font-size="16.9" dy="-8.57">12</tspan><tspan dy="8.57">CO (K)</tspan></text>
<line x1="1648.7" y1="1033.1" x2="1648.7" y2="1428.3" stroke="#bcbcbc" stroke-width="1.9"/>
<line x1="1648.7" y1="1051" x2="1990.4" y2="1341.2" stroke="#0000ff" stroke-width="2"/>
<circle cx="1704.71" cy="1097.74" r="2.6" fill="#4a4a4a"/>
<circle cx="1717.64" cy="1108.88" r="2.6" fill="#4a4a4a"/>
<circle cx="1730.58" cy="1121.81" r="2.6" fill="#4a4a4a"/>
<circle cx="1743.51" cy="1133.67" r="2.6" fill="#4a4a4a"/>
<circle cx="1756.45" cy="1143.73" r="2.6" fill="#4a4a4a"/>
<circle cx="1769.38" cy="1153.43" r="2.6" fill="#4a4a4a"/>
<circle cx="1782.32" cy="1164.93" r="2.6" fill="#4a4a4a"/>
<circle cx="1795.26" cy="1175.71" r="2.6" fill="#4a4a4a"/>
<circle cx="1808.19" cy="1183.26" r="2.6" fill="#4a4a4a"/>
<circle cx="1821.13" cy="1192.24" r="2.6" fill="#4a4a4a"/>
<circle cx="1834.06" cy="1204.81" r="2.6" fill="#4a4a4a"/>
<circle cx="1847" cy="1215.24" r="2.6" fill="#4a4a4a"/>
<circle cx="1859.93" cy="1222.42" r="2.6" fill="#4a4a4a"/>
<circle cx="1872.87" cy="1229.25" r="2.6" fill="#4a4a4a"/>
<circle cx="1885.81" cy="1242.54" r="2.6" fill="#4a4a4a"/>
<circle cx="1899.1" cy="1267.34" r="2.6" fill="#4a4a4a"/>
<circle cx="1912.04" cy="1279.91" r="2.6" fill="#4a4a4a"/>
<circle cx="1924.97" cy="1291.05" r="2.6" fill="#4a4a4a"/>
<circle cx="1937.91" cy="1314.77" r="2.6" fill="#4a4a4a"/>
<circle cx="1950.84" cy="1314.77" r="2.6" fill="#4a4a4a"/>
<circle cx="1963.78" cy="1365.79" r="2.6" fill="#4a4a4a"/>
<circle cx="1976.72" cy="1410.35" r="2.6" fill="#4a4a4a"/>
<line x1="1976.72" y1="1404.24" x2="1976.72" y2="1416.82" stroke="#4a4a4a" stroke-width="1.8"/>
<line x1="1648.7" y1="1428.3" x2="1648.7" y2="1433.3" stroke="#222" stroke-width="1.2"/>
<text transform="translate(1648.7 1453.6) scale(1 1.045)" font-family="'Liberation Sans', sans-serif" font-size="23.4" text-anchor="middle" fill="#000" stroke="#000" stroke-width="0.35">0</text>
<line x1="1752.3" y1="1428.3" x2="1752.3" y2="1433.3" stroke="#222" stroke-width="1.2"/>
<text transform="translate(1752.3 1453.6) scale(1 1.045)" font-family="'Liberation Sans', sans-serif" font-size="23.4" text-anchor="middle" fill="#000" stroke="#000" stroke-width="0.35">2</text>
<line x1="1855.9" y1="1428.3" x2="1855.9" y2="1433.3" stroke="#222" stroke-width="1.2"/>
<text transform="translate(1855.9 1453.6) scale(1 1.045)" font-family="'Liberation Sans', sans-serif" font-size="23.4" text-anchor="middle" fill="#000" stroke="#000" stroke-width="0.35">4</text>
<line x1="1959.5" y1="1428.3" x2="1959.5" y2="1433.3" stroke="#222" stroke-width="1.2"/>
<text transform="translate(1959.5 1453.6) scale(1 1.045)" font-family="'Liberation Sans', sans-serif" font-size="23.4" text-anchor="middle" fill="#000" stroke="#000" stroke-width="0.35">6</text>
<line x1="1631.4" y1="1407.52" x2="1628.8" y2="1407.52" stroke="#111" stroke-width="1.2"/>
<line x1="1631.4" y1="1385.97" x2="1628.8" y2="1385.97" stroke="#111" stroke-width="1.2"/>
<line x1="1631.4" y1="1370.69" x2="1628.8" y2="1370.69" stroke="#111" stroke-width="1.2"/>
<line x1="1631.4" y1="1358.83" x2="1628.8" y2="1358.83" stroke="#111" stroke-width="1.2"/>
<line x1="1631.4" y1="1349.14" x2="1628.8" y2="1349.14" stroke="#111" stroke-width="1.2"/>
<line x1="1631.4" y1="1340.95" x2="1628.8" y2="1340.95" stroke="#111" stroke-width="1.2"/>
<line x1="1631.4" y1="1333.86" x2="1628.8" y2="1333.86" stroke="#111" stroke-width="1.2"/>
<line x1="1631.4" y1="1327.6" x2="1628.8" y2="1327.6" stroke="#111" stroke-width="1.2"/>
<line x1="1631.4" y1="1322" x2="1626.4" y2="1322" stroke="#222" stroke-width="1.2"/>
<text transform="translate(1623.1 1330.9) scale(1 1.02)" font-family="'Liberation Sans', sans-serif" font-size="23.4" text-anchor="end" fill="#000" stroke="#000" stroke-width="0.35">10<tspan font-size="16.61" dy="-8.42">0</tspan></text>
<line x1="1631.4" y1="1285.17" x2="1628.8" y2="1285.17" stroke="#111" stroke-width="1.2"/>
<line x1="1631.4" y1="1263.62" x2="1628.8" y2="1263.62" stroke="#111" stroke-width="1.2"/>
<line x1="1631.4" y1="1248.34" x2="1628.8" y2="1248.34" stroke="#111" stroke-width="1.2"/>
<line x1="1631.4" y1="1236.48" x2="1628.8" y2="1236.48" stroke="#111" stroke-width="1.2"/>
<line x1="1631.4" y1="1226.79" x2="1628.8" y2="1226.79" stroke="#111" stroke-width="1.2"/>
<line x1="1631.4" y1="1218.6" x2="1628.8" y2="1218.6" stroke="#111" stroke-width="1.2"/>
<line x1="1631.4" y1="1211.51" x2="1628.8" y2="1211.51" stroke="#111" stroke-width="1.2"/>
<line x1="1631.4" y1="1205.25" x2="1628.8" y2="1205.25" stroke="#111" stroke-width="1.2"/>
<line x1="1631.4" y1="1199.65" x2="1626.4" y2="1199.65" stroke="#222" stroke-width="1.2"/>
<text transform="translate(1623.1 1208.55) scale(1 1.02)" font-family="'Liberation Sans', sans-serif" font-size="23.4" text-anchor="end" fill="#000" stroke="#000" stroke-width="0.35">10<tspan font-size="16.61" dy="-8.42">1</tspan></text>
<line x1="1631.4" y1="1162.82" x2="1628.8" y2="1162.82" stroke="#111" stroke-width="1.2"/>
<line x1="1631.4" y1="1141.27" x2="1628.8" y2="1141.27" stroke="#111" stroke-width="1.2"/>
<line x1="1631.4" y1="1125.99" x2="1628.8" y2="1125.99" stroke="#111" stroke-width="1.2"/>
<line x1="1631.4" y1="1114.13" x2="1628.8" y2="1114.13" stroke="#111" stroke-width="1.2"/>
<line x1="1631.4" y1="1104.44" x2="1628.8" y2="1104.44" stroke="#111" stroke-width="1.2"/>
<line x1="1631.4" y1="1096.25" x2="1628.8" y2="1096.25" stroke="#111" stroke-width="1.2"/>
<line x1="1631.4" y1="1089.16" x2="1628.8" y2="1089.16" stroke="#111" stroke-width="1.2"/>
<line x1="1631.4" y1="1082.9" x2="1628.8" y2="1082.9" stroke="#111" stroke-width="1.2"/>
<line x1="1631.4" y1="1077.3" x2="1626.4" y2="1077.3" stroke="#222" stroke-width="1.2"/>
<text transform="translate(1623.1 1086.2) scale(1 1.02)" font-family="'Liberation Sans', sans-serif" font-size="23.4" text-anchor="end" fill="#000" stroke="#000" stroke-width="0.35">10<tspan font-size="16.61" dy="-8.42">2</tspan></text>
<line x1="1631.4" y1="1040.47" x2="1628.8" y2="1040.47" stroke="#111" stroke-width="1.2"/>
<text transform="translate(1663.5 1391.7) scale(1 1.02)" font-family="'Liberation Sans', sans-serif" font-size="21.2" text-anchor="start" fill="#000" stroke="#000" stroke-width="0.31">cloud 11061298</text>
<rect x="1631.4" y="1033.1" width="374.8" height="395.2" fill="none" stroke="#222" stroke-width="1.5"/>
<text transform="translate(1578.3 1230.3) rotate(-90) scale(1 1.02)" font-family="'Liberation Sans', sans-serif" font-size="23.8" text-anchor="middle" fill="#000" stroke="#000" stroke-width="0.35" textLength="303.3" lengthAdjust="spacing"><tspan font-size="16.9" dy="-8.57">12</tspan><tspan dy="8.57">CO flux (K km s</tspan><tspan font-size="16.9" dy="-8.57">−1</tspan><tspan dy="8.57"> arcmin</tspan><tspan font-size="16.9" dy="-8.57">2</tspan><tspan dy="8.57">)</tspan></text>
<text transform="translate(1818.8 1483.3) scale(1 1.02)" font-family="'Liberation Sans', sans-serif" font-size="23.8" text-anchor="middle" fill="#000" stroke="#000" stroke-width="0.35">Intensity of <tspan font-size="16.9" dy="-8.57">12</tspan><tspan dy="8.57">CO (K)</tspan></text>
<rect x="275.9" y="1040.5" width="170.8" height="70" rx="2.8" fill="#fff" fill-opacity="0.8" stroke="#cccccc" stroke-width="1.3"/>
<line x1="281.2" y1="1052.5" x2="295.9" y2="1052.5" stroke="#0000ff" stroke-width="2"/>
<text x="325.84" y="1057.6" font-family="'Liberation Serif', serif" font-style="italic" font-size="15.6" fill="#000" stroke="#000" stroke-width="0.2">a</text>
<text x="331.96" y="1059.9" font-family="'Liberation Sans', sans-serif" font-size="9.6" fill="#000" stroke="#000" stroke-width="0.25">1</text>
<text x="338.98" y="1057.6" font-family="'Liberation Sans', sans-serif" font-size="15" fill="#000" stroke="#000" stroke-width="0.3">exp</text>
<text x="366.09" y="1057.6" font-family="'Liberation Sans', sans-serif" font-size="15" fill="#000" stroke="#000" stroke-width="0.3">(</text>
<text x="371.07" y="1059.5" font-family="'Liberation Sans', sans-serif" font-size="20.5" fill="#000">−</text>
<text x="383.34" y="1057.6" font-family="'Liberation Serif', serif" font-style="italic" font-size="15.6" fill="#000" stroke="#000" stroke-width="0.2">α</text>
<text x="392.83" y="1059.9" font-family="'Liberation Sans', sans-serif" font-size="9.6" fill="#000" stroke="#000" stroke-width="0.25">1</text>
<text x="401.27" y="1057.6" font-family="'Liberation Serif', serif" font-style="italic" font-size="15.6" fill="#000" stroke="#000" stroke-width="0.2">T</text>
<text x="411.8" y="1057.6" font-family="'Liberation Sans', sans-serif" font-size="15" fill="#000" stroke="#000" stroke-width="0.3">)</text>
<text x="421.13" y="1057.6" font-family="'Liberation Sans', sans-serif" font-size="15" fill="#000" stroke="#000" stroke-width="0.3">+</text>
<text x="434.5" y="1057.6" font-family="'Liberation Serif', serif" font-style="italic" font-size="15.6" fill="#000" stroke="#000" stroke-width="0.2">c</text>
<text x="307.92" y="1074" font-family="'Liberation Serif', serif" font-style="italic" font-size="15.6" fill="#000" stroke="#000" stroke-width="0.2">a</text>
<text x="314.41" y="1076.3" font-family="'Liberation Sans', sans-serif" font-size="9.6" fill="#000" stroke="#000" stroke-width="0.25">1</text>
<text x="325.17" y="1074" font-family="'Liberation Sans', sans-serif" font-size="15" fill="#000" stroke="#000" stroke-width="0.3">=</text>
<text x="338.23" y="1074" font-family="'Liberation Sans', sans-serif" font-size="15" fill="#000" stroke="#000" stroke-width="0.3">427</text>
<text x="367.71" y="1074.6" font-family="'Liberation Sans', sans-serif" font-size="20.5" fill="#000">±</text>
<text x="383.42" y="1074" font-family="'Liberation Sans', sans-serif" font-size="15" fill="#000" stroke="#000" stroke-width="0.3">41</text>
<text x="307.17" y="1088.2" font-family="'Liberation Serif', serif" font-style="italic" font-size="15.6" fill="#000" stroke="#000" stroke-width="0.2">α</text>
<text x="316.43" y="1090.5" font-family="'Liberation Sans', sans-serif" font-size="9.6" fill="#000" stroke="#000" stroke-width="0.25">1</text>
<text x="327.03" y="1088.2" font-family="'Liberation Sans', sans-serif" font-size="15" fill="#000" stroke="#000" stroke-width="0.3">=</text>
<text x="341.22" y="1088.2" font-family="'Liberation Sans', sans-serif" font-size="15" fill="#000" stroke="#000" stroke-width="0.3">1.698</text>
<text x="382.27" y="1088.8" font-family="'Liberation Sans', sans-serif" font-size="20.5" fill="#000">±</text>
<text x="397.98" y="1088.2" font-family="'Liberation Sans', sans-serif" font-size="15" fill="#000" stroke="#000" stroke-width="0.3">0.077</text>
<text x="308.29" y="1102.4" font-family="'Liberation Serif', serif" font-style="italic" font-size="15.6" fill="#000" stroke="#000" stroke-width="0.2">c</text>
<text x="319.19" y="1102.4" font-family="'Liberation Sans', sans-serif" font-size="15" fill="#000" stroke="#000" stroke-width="0.3">=</text>
<text x="332.23" y="1104.3" font-family="'Liberation Sans', sans-serif" font-size="20.5" fill="#000">−</text>
<text x="344.21" y="1102.4" font-family="'Liberation Sans', sans-serif" font-size="15" fill="#000" stroke="#000" stroke-width="0.3">1</text>
<text x="355.76" y="1103" font-family="'Liberation Sans', sans-serif" font-size="20.5" fill="#000">±</text>
<text x="371.47" y="1102.4" font-family="'Liberation Sans', sans-serif" font-size="15" fill="#000" stroke="#000" stroke-width="0.3">1</text>
<rect x="1340.9" y="1040.5" width="170.8" height="70" rx="2.8" fill="#fff" fill-opacity="0.8" stroke="#cccccc" stroke-width="1.3"/>
<line x1="1346.2" y1="1052.5" x2="1360.9" y2="1052.5" stroke="#0000ff" stroke-width="2"/>
<text x="1390.84" y="1057.6" font-family="'Liberation Serif', serif" font-style="italic" font-size="15.6" fill="#000" stroke="#000" stroke-width="0.2">a</text>
<text x="1396.96" y="1059.9" font-family="'Liberation Sans', sans-serif" font-size="9.6" fill="#000" stroke="#000" stroke-width="0.25">1</text>
<text x="1403.98" y="1057.6" font-family="'Liberation Sans', sans-serif" font-size="15" fill="#000" stroke="#000" stroke-width="0.3">exp</text>
<text x="1431.09" y="1057.6" font-family="'Liberation Sans', sans-serif" font-size="15" fill="#000" stroke="#000" stroke-width="0.3">(</text>
<text x="1436.07" y="1059.5" font-family="'Liberation Sans', sans-serif" font-size="20.5" fill="#000">−</text>
<text x="1448.34" y="1057.6" font-family="'Liberation Serif', serif" font-style="italic" font-size="15.6" fill="#000" stroke="#000" stroke-width="0.2">α</text>
<text x="1457.83" y="1059.9" font-family="'Liberation Sans', sans-serif" font-size="9.6" fill="#000" stroke="#000" stroke-width="0.25">1</text>
<text x="1466.27" y="1057.6" font-family="'Liberation Serif', serif" font-style="italic" font-size="15.6" fill="#000" stroke="#000" stroke-width="0.2">T</text>
<text x="1476.8" y="1057.6" font-family="'Liberation Sans', sans-serif" font-size="15" fill="#000" stroke="#000" stroke-width="0.3">)</text>
<text x="1486.13" y="1057.6" font-family="'Liberation Sans', sans-serif" font-size="15" fill="#000" stroke="#000" stroke-width="0.3">+</text>
<text x="1499.5" y="1057.6" font-family="'Liberation Serif', serif" font-style="italic" font-size="15.6" fill="#000" stroke="#000" stroke-width="0.2">c</text>
<text x="1372.92" y="1074" font-family="'Liberation Serif', serif" font-style="italic" font-size="15.6" fill="#000" stroke="#000" stroke-width="0.2">a</text>
<text x="1379.41" y="1076.3" font-family="'Liberation Sans', sans-serif" font-size="9.6" fill="#000" stroke="#000" stroke-width="0.25">1</text>
<text x="1390.17" y="1074" font-family="'Liberation Sans', sans-serif" font-size="15" fill="#000" stroke="#000" stroke-width="0.3">=</text>
<text x="1403.98" y="1074" font-family="'Liberation Sans', sans-serif" font-size="15" fill="#000" stroke="#000" stroke-width="0.3">166</text>
<text x="1432.71" y="1074.6" font-family="'Liberation Sans', sans-serif" font-size="20.5" fill="#000">±</text>
<text x="1448.42" y="1074" font-family="'Liberation Sans', sans-serif" font-size="15" fill="#000" stroke="#000" stroke-width="0.3">4</text>
<text x="1372.17" y="1088.2" font-family="'Liberation Serif', serif" font-style="italic" font-size="15.6" fill="#000" stroke="#000" stroke-width="0.2">α</text>
<text x="1381.43" y="1090.5" font-family="'Liberation Sans', sans-serif" font-size="9.6" fill="#000" stroke="#000" stroke-width="0.25">1</text>
<text x="1392.03" y="1088.2" font-family="'Liberation Sans', sans-serif" font-size="15" fill="#000" stroke="#000" stroke-width="0.3">=</text>
<text x="1405.48" y="1088.2" font-family="'Liberation Sans', sans-serif" font-size="15" fill="#000" stroke="#000" stroke-width="0.3">0.830</text>
<text x="1447.27" y="1088.8" font-family="'Liberation Sans', sans-serif" font-size="20.5" fill="#000">±</text>
<text x="1462.98" y="1088.2" font-family="'Liberation Sans', sans-serif" font-size="15" fill="#000" stroke="#000" stroke-width="0.3">0.019</text>
<text x="1373.29" y="1102.4" font-family="'Liberation Serif', serif" font-style="italic" font-size="15.6" fill="#000" stroke="#000" stroke-width="0.2">c</text>
<text x="1384.19" y="1102.4" font-family="'Liberation Sans', sans-serif" font-size="15" fill="#000" stroke="#000" stroke-width="0.3">=</text>
<text x="1397.63" y="1102.4" font-family="'Liberation Sans', sans-serif" font-size="15" fill="#000" stroke="#000" stroke-width="0.3">1</text>
<text x="1409.18" y="1103" font-family="'Liberation Sans', sans-serif" font-size="20.5" fill="#000">±</text>
<text x="1424.89" y="1102.4" font-family="'Liberation Sans', sans-serif" font-size="15" fill="#000" stroke="#000" stroke-width="0.3">0</text>
</svg>
</body></html>
